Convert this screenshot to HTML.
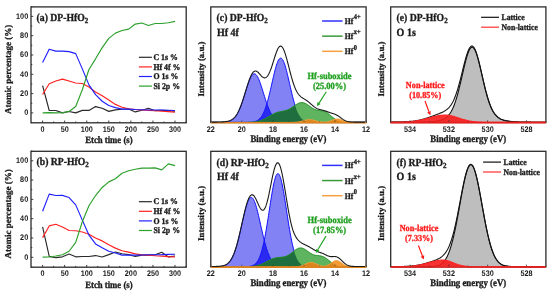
<!DOCTYPE html>
<html><head><meta charset="utf-8"><style>
html,body{margin:0;padding:0;background:#fff;}
svg{display:block;text-rendering:geometricPrecision;}
.tk{font-family:'Liberation Sans', Arial, sans-serif;font-weight:bold;font-size:7.25px;fill:#1a1a1a;}
.lb{font-family:'Liberation Serif', 'Times New Roman', serif;font-weight:bold;fill:#1a1a1a;stroke:#1a1a1a;stroke-width:0.3px;}
</style></head><body>
<svg width="550" height="293" viewBox="0 0 550 293">
<rect width="550" height="293" fill="#fff"/>
<polyline points="42.6,85.67 49.22,110.49 55.84,110.49 62.46,112.9 69.08,111.45 75.7,112.9 82.32,110.39 88.94,110.39 95.56,106.62 102.18,108.27 108.8,111.36 115.41,109.91 122.03,109.23 128.65,108.94 135.27,111.93 141.89,110.2 148.51,108.27 155.13,110.68 161.75,110.29 168.37,110.68 174.99,111.16" fill="none" stroke="#2a2a2a" stroke-width="1.15" stroke-linejoin="round"/>
<polyline points="42.6,94.56 49.22,83.74 55.84,81.04 62.46,79.11 69.08,81.04 75.7,82.97 82.32,83.45 88.94,87.12 95.56,91.95 102.18,95.81 108.8,100.06 115.41,104.4 122.03,107.2 128.65,108.75 135.27,109.52 141.89,110 148.51,110.39 155.13,110.78 161.75,111.16 168.37,111.64 174.99,112.13" fill="none" stroke="#ff2020" stroke-width="1.15" stroke-linejoin="round"/>
<polyline points="42.6,62.5 49.22,49.18 55.84,51.11 62.46,51.11 69.08,51.59 75.7,53.62 82.32,68.87 88.94,84.9 95.56,94.65 102.18,101.22 108.8,105.47 115.41,107.59 122.03,109.13 128.65,109.13 135.27,109.52 141.89,109.71 148.51,110 155.13,110 161.75,110 168.37,110.2 174.99,110.49" fill="none" stroke="#2020ff" stroke-width="1.15" stroke-linejoin="round"/>
<polyline points="42.6,112.9 49.22,112.61 55.84,112.9 62.46,112.61 69.08,111.45 75.7,106.53 82.32,89.73 88.94,69.45 95.56,58.83 102.18,47.63 108.8,38.36 115.41,33.15 122.03,30.54 128.65,29.09 135.27,24.07 141.89,23.01 148.51,25.52 155.13,23.49 161.75,23.49 168.37,22.72 174.99,21.37" fill="none" stroke="#2ca02c" stroke-width="1.15" stroke-linejoin="round"/>
<rect x="31" y="6.9" width="155.2" height="115.9" fill="none" stroke="#2b2b2b" stroke-width="1.3"/>
<path d="M42.6,122.8v-2.3M64.67,122.8v-2.3M86.73,122.8v-2.3M108.8,122.8v-2.3M130.86,122.8v-2.3M152.93,122.8v-2.3M174.99,122.8v-2.3M53.63,122.8v-1.3M75.7,122.8v-1.3M97.76,122.8v-1.3M119.83,122.8v-1.3M141.89,122.8v-1.3M163.96,122.8v-1.3M186.02,122.8v-1.3" stroke="#2b2b2b" stroke-width="0.9" fill="none" stroke-opacity="1"/>
<text transform="translate(42.6,131.6) scale(1,1.12)" text-anchor="middle" class="tk">0</text>
<text transform="translate(64.67,131.6) scale(1,1.12)" text-anchor="middle" class="tk">50</text>
<text transform="translate(86.73,131.6) scale(1,1.12)" text-anchor="middle" class="tk">100</text>
<text transform="translate(108.8,131.6) scale(1,1.12)" text-anchor="middle" class="tk">150</text>
<text transform="translate(130.86,131.6) scale(1,1.12)" text-anchor="middle" class="tk">200</text>
<text transform="translate(152.93,131.6) scale(1,1.12)" text-anchor="middle" class="tk">250</text>
<text transform="translate(174.99,131.6) scale(1,1.12)" text-anchor="middle" class="tk">300</text>
<path d="M31,112.9h2.3M31,93.59h2.3M31,74.28h2.3M31,54.97h2.3M31,35.66h2.3M31,16.35h2.3M31,122.56h1.3M31,103.25h1.3M31,83.94h1.3M31,64.62h1.3M31,45.31h1.3M31,26.01h1.3M31,6.7h1.3" stroke="#2b2b2b" stroke-width="0.9" fill="none"/>
<text transform="translate(28.2,115.3) scale(1,1.12)" text-anchor="end" class="tk">0</text>
<text transform="translate(28.2,95.99) scale(1,1.12)" text-anchor="end" class="tk">20</text>
<text transform="translate(28.2,76.68) scale(1,1.12)" text-anchor="end" class="tk">40</text>
<text transform="translate(28.2,57.37) scale(1,1.12)" text-anchor="end" class="tk">60</text>
<text transform="translate(28.2,38.06) scale(1,1.12)" text-anchor="end" class="tk">80</text>
<text transform="translate(28.2,18.75) scale(1,1.12)" text-anchor="end" class="tk">100</text>
<text transform="translate(11.4,69.4) rotate(-90)" text-anchor="middle" class="lb" font-size="9">Atomic percentage (%)</text>
<text transform="translate(108.9,143.2) scale(1,1.12)" text-anchor="middle" class="lb" font-size="8.7">Etch time (s)</text>
<text transform="translate(36.6,20.5) scale(1,1.12)" class="lb" font-size="9.7">(a) DP-HfO<tspan font-size="7" dy="1.9">2</tspan></text>
<line x1="138.9" x2="151.9" y1="57.3" y2="57.3" stroke="#2a2a2a" stroke-width="1.2"/>
<text transform="translate(153.4,59.9) scale(1,1.12)" class="lb" font-size="7.85">C 1s %</text>
<line x1="138.9" x2="151.9" y1="66.9" y2="66.9" stroke="#ff2020" stroke-width="1.2"/>
<text transform="translate(153.4,69.5) scale(1,1.12)" class="lb" font-size="7.85">Hf 4f %</text>
<line x1="138.9" x2="151.9" y1="76.5" y2="76.5" stroke="#2020ff" stroke-width="1.2"/>
<text transform="translate(153.4,79.1) scale(1,1.12)" class="lb" font-size="7.85">O 1s %</text>
<line x1="138.9" x2="151.9" y1="86.1" y2="86.1" stroke="#2ca02c" stroke-width="1.2"/>
<text transform="translate(153.4,88.7) scale(1,1.12)" class="lb" font-size="7.85">Si 2p %</text>
<polyline points="42.6,226.98 49.22,256.33 55.84,257.69 62.46,256.82 69.08,254.02 75.7,256.82 82.32,256.53 88.94,256.53 95.56,255.56 102.18,257.01 108.8,254.6 115.41,251.99 122.03,253.73 128.65,254.6 135.27,256.43 141.89,255.18 148.51,255.18 155.13,254.89 161.75,252.28 168.37,256.91 174.99,255.95" fill="none" stroke="#2a2a2a" stroke-width="1.15" stroke-linejoin="round"/>
<polyline points="42.6,237.6 49.22,225.92 55.84,224.28 62.46,226.98 69.08,230.46 75.7,230.75 82.32,232 88.94,234.32 95.56,237.99 102.18,240.89 108.8,244.75 115.41,248.13 122.03,250.73 128.65,252.18 135.27,253.92 141.89,254.89 148.51,255.18 155.13,255.76 161.75,256.14 168.37,256.62 174.99,256.91" fill="none" stroke="#ff2020" stroke-width="1.15" stroke-linejoin="round"/>
<polyline points="42.6,211.25 49.22,194.16 55.84,195.51 62.46,195.41 69.08,197.54 75.7,204.87 82.32,220.13 88.94,235.09 95.56,243.88 102.18,247.65 108.8,251.22 115.41,253.05 122.03,255.08 128.65,255.18 135.27,255.18 141.89,254.98 148.51,254.79 155.13,254.79 161.75,254.69 168.37,254.4 174.99,254.21" fill="none" stroke="#2020ff" stroke-width="1.15" stroke-linejoin="round"/>
<polyline points="42.6,257.11 49.22,257.01 55.84,256.04 62.46,254.69 69.08,251.22 75.7,242.33 82.32,221.77 88.94,205.74 95.56,195.51 102.18,187.49 108.8,181.89 115.41,178.8 122.03,173.3 128.65,170.79 135.27,169.25 141.89,168.18 148.51,168.18 155.13,167.89 161.75,169.92 168.37,163.84 174.99,165.67" fill="none" stroke="#2ca02c" stroke-width="1.15" stroke-linejoin="round"/>
<rect x="31" y="151.3" width="155.2" height="115.9" fill="none" stroke="#2b2b2b" stroke-width="1.3"/>
<path d="M42.6,267.2v-2.3M64.67,267.2v-2.3M86.73,267.2v-2.3M108.8,267.2v-2.3M130.86,267.2v-2.3M152.93,267.2v-2.3M174.99,267.2v-2.3M53.63,267.2v-1.3M75.7,267.2v-1.3M97.76,267.2v-1.3M119.83,267.2v-1.3M141.89,267.2v-1.3M163.96,267.2v-1.3M186.02,267.2v-1.3" stroke="#2b2b2b" stroke-width="0.9" fill="none" stroke-opacity="1"/>
<text transform="translate(42.6,276) scale(1,1.12)" text-anchor="middle" class="tk">0</text>
<text transform="translate(64.67,276) scale(1,1.12)" text-anchor="middle" class="tk">50</text>
<text transform="translate(86.73,276) scale(1,1.12)" text-anchor="middle" class="tk">100</text>
<text transform="translate(108.8,276) scale(1,1.12)" text-anchor="middle" class="tk">150</text>
<text transform="translate(130.86,276) scale(1,1.12)" text-anchor="middle" class="tk">200</text>
<text transform="translate(152.93,276) scale(1,1.12)" text-anchor="middle" class="tk">250</text>
<text transform="translate(174.99,276) scale(1,1.12)" text-anchor="middle" class="tk">300</text>
<path d="M31,257.3h2.3M31,237.99h2.3M31,218.68h2.3M31,199.37h2.3M31,180.06h2.3M31,160.75h2.3M31,266.96h1.3M31,247.65h1.3M31,228.34h1.3M31,209.03h1.3M31,189.72h1.3M31,170.41h1.3M31,151.1h1.3" stroke="#2b2b2b" stroke-width="0.9" fill="none"/>
<text transform="translate(28.2,259.7) scale(1,1.12)" text-anchor="end" class="tk">0</text>
<text transform="translate(28.2,240.39) scale(1,1.12)" text-anchor="end" class="tk">20</text>
<text transform="translate(28.2,221.08) scale(1,1.12)" text-anchor="end" class="tk">40</text>
<text transform="translate(28.2,201.77) scale(1,1.12)" text-anchor="end" class="tk">60</text>
<text transform="translate(28.2,182.46) scale(1,1.12)" text-anchor="end" class="tk">80</text>
<text transform="translate(28.2,163.15) scale(1,1.12)" text-anchor="end" class="tk">100</text>
<text transform="translate(11.4,213.8) rotate(-90)" text-anchor="middle" class="lb" font-size="9">Atomic percentage (%)</text>
<text transform="translate(108.9,287.6) scale(1,1.12)" text-anchor="middle" class="lb" font-size="8.7">Etch time (s)</text>
<text transform="translate(36.6,164.9) scale(1,1.12)" class="lb" font-size="9.7">(b) RP-HfO<tspan font-size="7" dy="1.9">2</tspan></text>
<line x1="138.9" x2="151.9" y1="201.7" y2="201.7" stroke="#2a2a2a" stroke-width="1.2"/>
<text transform="translate(153.4,204.3) scale(1,1.12)" class="lb" font-size="7.85">C 1s %</text>
<line x1="138.9" x2="151.9" y1="211.3" y2="211.3" stroke="#ff2020" stroke-width="1.2"/>
<text transform="translate(153.4,213.9) scale(1,1.12)" class="lb" font-size="7.85">Hf 4f %</text>
<line x1="138.9" x2="151.9" y1="220.9" y2="220.9" stroke="#2020ff" stroke-width="1.2"/>
<text transform="translate(153.4,223.5) scale(1,1.12)" class="lb" font-size="7.85">O 1s %</text>
<line x1="138.9" x2="151.9" y1="230.5" y2="230.5" stroke="#2ca02c" stroke-width="1.2"/>
<text transform="translate(153.4,233.1) scale(1,1.12)" class="lb" font-size="7.85">Si 2p %</text>
<rect x="210.8" y="6.9" width="155.3" height="115.6" fill="none" stroke="#2b2b2b" stroke-width="1.3"/>
<path d="M211.5,122.4L211.5,122.4L212,122.4L212.5,122.4L213,122.4L213.5,122.4L214,122.4L214.5,122.4L215,122.4L215.5,122.39L216,122.39L216.5,122.39L217,122.39L217.5,122.39L218,122.38L218.5,122.38L219,122.37L219.5,122.37L220,122.36L220.5,122.35L221,122.34L221.5,122.33L222,122.31L222.5,122.29L223,122.27L223.5,122.24L224,122.21L224.5,122.17L225,122.13L225.5,122.08L226,122.01L226.5,121.94L227,121.86L227.5,121.76L228,121.65L228.5,121.53L229,121.38L229.5,121.21L230,121.03L230.5,120.81L231,120.57L231.5,120.29L232,119.99L232.5,119.64L233,119.26L233.5,118.83L234,118.36L234.5,117.84L235,117.27L235.5,116.65L236,115.97L236.5,115.23L237,114.42L237.5,113.56L238,112.63L238.5,111.63L239,110.58L239.5,109.45L240,108.26L240.5,107.01L241,105.7L241.5,104.33L242,102.91L242.5,101.43L243,99.92L243.5,98.37L244,96.79L244.5,95.19L245,93.57L245.5,91.95L246,90.34L246.5,88.74L247,87.17L247.5,85.64L248,84.16L248.5,82.73L249,81.38L249.5,80.11L250,78.93L250.5,77.86L251,76.89L251.5,76.05L252,75.33L252.5,74.74L253,74.29L253.5,73.99L254,73.83L254.5,73.81L255,73.94L255.5,74.22L256,74.64L256.5,75.2L257,75.89L257.5,76.71L258,77.66L258.5,78.71L259,79.87L259.5,81.12L260,82.46L260.5,83.87L261,85.34L261.5,86.86L262,88.42L262.5,90.02L263,91.63L263.5,93.25L264,94.86L264.5,96.47L265,98.05L265.5,99.61L266,101.13L266.5,102.61L267,103.26L267.5,101.52L268,99.7L268.5,97.8L269,95.83L269.5,93.79L270,91.7L270.5,89.55L271,87.38L271.5,85.17L272,82.96L272.5,80.75L273,78.55L273.5,76.39L274,74.28L274.5,72.23L275,70.27L275.5,68.4L276,66.65L276.5,65.02L277,63.54L277.5,62.21L278,61.06L278.5,60.08L279,59.29L279.5,58.7L280,58.3L280.5,58.12L281,58.14L281.5,58.37L282,58.8L282.5,59.43L283,60.26L283.5,61.27L284,62.47L284.5,63.82L285,65.34L285.5,66.99L286,68.77L286.5,70.65L287,72.64L287.5,74.7L288,76.82L288.5,78.99L289,81.19L289.5,83.4L290,85.61L290.5,87.81L291,89.99L291.5,92.12L292,94.21L292.5,96.23L293,98.19L293.5,100.07L294,101.88L294.5,103.6L295,105.23L295.5,106.77L296,108.22L296.5,109.57L297,110.83L297.5,112.01L298,113.09L298.5,114.09L299,115L299.5,115.84L300,116.6L300.5,117.28L301,117.91L301.5,118.46L302,118.96L302.5,119.41L303,119.81L303.5,120.16L304,120.47L304.5,120.74L305,120.98L305.5,121.19L306,121.37L306.5,121.53L307,121.66L307.5,121.78L308,121.88L308.5,121.96L309,122.03L309.5,122.1L310,122.15L310.5,122.19L311,122.23L311.5,122.26L312,122.28L312.5,122.31L313,122.32L313.5,122.34L314,122.35L314.5,122.36L315,122.37L315.5,122.37L316,122.38L316.5,122.38L317,122.39L317.5,122.39L318,122.39L318.5,122.39L319,122.4L319.5,122.4L320,122.4L320.5,122.4L321,122.4L321.5,122.4L322,122.4L322.5,122.4L323,122.4L323.5,122.4L324,122.4L324.5,122.4L325,122.4L325.5,122.4L326,122.4L326.5,122.4L327,122.4L327.5,122.4L328,122.4L328.5,122.4L329,122.4L329.5,122.4L330,122.4L330.5,122.4L331,122.4L331.5,122.4L332,122.4L332.5,122.4L333,122.4L333.5,122.4L334,122.4L334.5,122.4L335,122.4L335.5,122.4L336,122.4L336.5,122.4L337,122.4L337.5,122.4L338,122.4L338.5,122.4L339,122.4L339.5,122.4L340,122.4L340.5,122.4L341,122.4L341.5,122.4L342,122.4L342.5,122.4L343,122.4L343.5,122.4L344,122.4L344.5,122.4L345,122.4L345.5,122.4L346,122.4L346.5,122.4L347,122.4L347.5,122.4L348,122.4L348.5,122.4L349,122.4L349.5,122.4L350,122.4L350.5,122.4L351,122.4L351.5,122.4L352,122.4L352.5,122.4L353,122.4L353.5,122.4L354,122.4L354.5,122.4L355,122.4L355.5,122.4L356,122.4L356.5,122.4L357,122.4L357.5,122.4L358,122.4L358.5,122.4L359,122.4L359.5,122.4L360,122.4L360.5,122.4L361,122.4L361.5,122.4L362,122.4L362.5,122.4L363,122.4L363.5,122.4L364,122.4L364.5,122.4L365,122.4L365,122.4Z" fill="#8282f5"/>
<path d="M211.5,122.4L211.5,122.4L212,122.4L212.5,122.4L213,122.4L213.5,122.4L214,122.4L214.5,122.4L215,122.4L215.5,122.4L216,122.4L216.5,122.4L217,122.4L217.5,122.4L218,122.4L218.5,122.4L219,122.4L219.5,122.4L220,122.4L220.5,122.4L221,122.4L221.5,122.4L222,122.4L222.5,122.4L223,122.4L223.5,122.4L224,122.4L224.5,122.4L225,122.4L225.5,122.4L226,122.4L226.5,122.4L227,122.4L227.5,122.4L228,122.4L228.5,122.4L229,122.4L229.5,122.4L230,122.4L230.5,122.4L231,122.4L231.5,122.4L232,122.4L232.5,122.4L233,122.4L233.5,122.4L234,122.4L234.5,122.4L235,122.4L235.5,122.4L236,122.4L236.5,122.4L237,122.4L237.5,122.4L238,122.4L238.5,122.4L239,122.4L239.5,122.4L240,122.4L240.5,122.4L241,122.4L241.5,122.4L242,122.4L242.5,122.39L243,122.39L243.5,122.39L244,122.39L244.5,122.39L245,122.38L245.5,122.38L246,122.37L246.5,122.37L247,122.36L247.5,122.35L248,122.34L248.5,122.32L249,122.3L249.5,122.28L250,122.25L250.5,122.22L251,122.18L251.5,122.14L252,122.08L252.5,122.02L253,121.95L253.5,121.86L254,121.76L254.5,121.64L255,121.5L255.5,121.33L256,121.15L256.5,120.93L257,120.69L257.5,120.41L258,120.09L258.5,119.73L259,119.33L259.5,118.87L260,118.36L260.5,117.79L261,117.15L261.5,116.45L262,115.68L262.5,114.82L263,113.89L263.5,112.88L264,111.78L264.5,110.59L265,109.31L265.5,107.93L266,106.47L266.5,104.91L267,104.05L267.5,105.43L268,106.75L268.5,108.02L269,109.22L269.5,110.36L270,111.43L270.5,112.44L271,113.38L271.5,114.26L272,115.07L272.5,115.82L273,116.52L273.5,117.15L274,117.73L274.5,118.26L275,118.74L275.5,119.18L276,119.57L276.5,119.92L277,120.24L277.5,120.52L278,120.76L278.5,120.98L279,121.18L279.5,121.35L280,121.5L280.5,121.63L281,121.74L281.5,121.84L282,121.93L282.5,122L283,122.06L283.5,122.12L284,122.16L284.5,122.2L285,122.24L285.5,122.26L286,122.29L286.5,122.31L287,122.32L287.5,122.34L288,122.35L288.5,122.36L289,122.37L289.5,122.37L290,122.38L290.5,122.38L291,122.39L291.5,122.39L292,122.39L292.5,122.39L293,122.39L293.5,122.4L294,122.4L294.5,122.4L295,122.4L295.5,122.4L296,122.4L296.5,122.4L297,122.4L297.5,122.4L298,122.4L298.5,122.4L299,122.4L299.5,122.4L300,122.4L300.5,122.4L301,122.4L301.5,122.4L302,122.4L302.5,122.4L303,122.4L303.5,122.4L304,122.4L304.5,122.4L305,122.4L305.5,122.4L306,122.4L306.5,122.4L307,122.4L307.5,122.4L308,122.4L308.5,122.4L309,122.4L309.5,122.4L310,122.4L310.5,122.4L311,122.4L311.5,122.4L312,122.4L312.5,122.4L313,122.4L313.5,122.4L314,122.4L314.5,122.4L315,122.4L315.5,122.4L316,122.4L316.5,122.4L317,122.4L317.5,122.4L318,122.4L318.5,122.4L319,122.4L319.5,122.4L320,122.4L320.5,122.4L321,122.4L321.5,122.4L322,122.4L322.5,122.4L323,122.4L323.5,122.4L324,122.4L324.5,122.4L325,122.4L325.5,122.4L326,122.4L326.5,122.4L327,122.4L327.5,122.4L328,122.4L328.5,122.4L329,122.4L329.5,122.4L330,122.4L330.5,122.4L331,122.4L331.5,122.4L332,122.4L332.5,122.4L333,122.4L333.5,122.4L334,122.4L334.5,122.4L335,122.4L335.5,122.4L336,122.4L336.5,122.4L337,122.4L337.5,122.4L338,122.4L338.5,122.4L339,122.4L339.5,122.4L340,122.4L340.5,122.4L341,122.4L341.5,122.4L342,122.4L342.5,122.4L343,122.4L343.5,122.4L344,122.4L344.5,122.4L345,122.4L345.5,122.4L346,122.4L346.5,122.4L347,122.4L347.5,122.4L348,122.4L348.5,122.4L349,122.4L349.5,122.4L350,122.4L350.5,122.4L351,122.4L351.5,122.4L352,122.4L352.5,122.4L353,122.4L353.5,122.4L354,122.4L354.5,122.4L355,122.4L355.5,122.4L356,122.4L356.5,122.4L357,122.4L357.5,122.4L358,122.4L358.5,122.4L359,122.4L359.5,122.4L360,122.4L360.5,122.4L361,122.4L361.5,122.4L362,122.4L362.5,122.4L363,122.4L363.5,122.4L364,122.4L364.5,122.4L365,122.4L365,122.4Z" fill="#2a2af0"/>
<path d="M211.5,122.4L212,122.4L212.5,122.4L213,122.4L213.5,122.4L214,122.4L214.5,122.4L215,122.4L215.5,122.39L216,122.39L216.5,122.39L217,122.39L217.5,122.39L218,122.38L218.5,122.38L219,122.37L219.5,122.37L220,122.36L220.5,122.35L221,122.34L221.5,122.33L222,122.31L222.5,122.29L223,122.27L223.5,122.24L224,122.21L224.5,122.17L225,122.13L225.5,122.08L226,122.01L226.5,121.94L227,121.86L227.5,121.76L228,121.65L228.5,121.53L229,121.38L229.5,121.21L230,121.03L230.5,120.81L231,120.57L231.5,120.29L232,119.99L232.5,119.64L233,119.26L233.5,118.83L234,118.36L234.5,117.84L235,117.27L235.5,116.65L236,115.97L236.5,115.23L237,114.42L237.5,113.56L238,112.63L238.5,111.63L239,110.58L239.5,109.45L240,108.26L240.5,107.01L241,105.7L241.5,104.33L242,102.91L242.5,101.43L243,99.92L243.5,98.37L244,96.79L244.5,95.19L245,93.57L245.5,91.95L246,90.34L246.5,88.74L247,87.17L247.5,85.64L248,84.16L248.5,82.73L249,81.38L249.5,80.11L250,78.93L250.5,77.86L251,76.89L251.5,76.05L252,75.33L252.5,74.74L253,74.29L253.5,73.99L254,73.83L254.5,73.81L255,73.94L255.5,74.22L256,74.64L256.5,75.2L257,75.89L257.5,76.71L258,77.66L258.5,78.71L259,79.87L259.5,81.12L260,82.46L260.5,83.87L261,85.34L261.5,86.86L262,88.42L262.5,90.02L263,91.63L263.5,93.25L264,94.86L264.5,96.47L265,98.05L265.5,99.61L266,101.13L266.5,102.61L267,104.05L267.5,105.43L268,106.75L268.5,108.02L269,109.22L269.5,110.36L270,111.43L270.5,112.44L271,113.38L271.5,114.26L272,115.07L272.5,115.82L273,116.52L273.5,117.15L274,117.73L274.5,118.26L275,118.74L275.5,119.18L276,119.57L276.5,119.92L277,120.24L277.5,120.52L278,120.76L278.5,120.98L279,121.18L279.5,121.35L280,121.5L280.5,121.63L281,121.74L281.5,121.84L282,121.93L282.5,122L283,122.06L283.5,122.12L284,122.16L284.5,122.2L285,122.24L285.5,122.26L286,122.29L286.5,122.31L287,122.32L287.5,122.34L288,122.35L288.5,122.36L289,122.37L289.5,122.37L290,122.38L290.5,122.38L291,122.39L291.5,122.39L292,122.39L292.5,122.39L293,122.39L293.5,122.4L294,122.4L294.5,122.4L295,122.4L295.5,122.4L296,122.4L296.5,122.4L297,122.4L297.5,122.4L298,122.4L298.5,122.4L299,122.4L299.5,122.4L300,122.4L300.5,122.4L301,122.4L301.5,122.4L302,122.4L302.5,122.4L303,122.4L303.5,122.4L304,122.4L304.5,122.4L305,122.4L305.5,122.4L306,122.4L306.5,122.4L307,122.4L307.5,122.4L308,122.4L308.5,122.4L309,122.4L309.5,122.4L310,122.4L310.5,122.4L311,122.4L311.5,122.4L312,122.4L312.5,122.4L313,122.4L313.5,122.4L314,122.4L314.5,122.4L315,122.4L315.5,122.4L316,122.4L316.5,122.4L317,122.4L317.5,122.4L318,122.4L318.5,122.4L319,122.4L319.5,122.4L320,122.4L320.5,122.4L321,122.4L321.5,122.4L322,122.4L322.5,122.4L323,122.4L323.5,122.4L324,122.4L324.5,122.4L325,122.4L325.5,122.4L326,122.4L326.5,122.4L327,122.4L327.5,122.4L328,122.4L328.5,122.4L329,122.4L329.5,122.4L330,122.4L330.5,122.4L331,122.4L331.5,122.4L332,122.4L332.5,122.4L333,122.4L333.5,122.4L334,122.4L334.5,122.4L335,122.4L335.5,122.4L336,122.4L336.5,122.4L337,122.4L337.5,122.4L338,122.4L338.5,122.4L339,122.4L339.5,122.4L340,122.4L340.5,122.4L341,122.4L341.5,122.4L342,122.4L342.5,122.4L343,122.4L343.5,122.4L344,122.4L344.5,122.4L345,122.4L345.5,122.4L346,122.4L346.5,122.4L347,122.4L347.5,122.4L348,122.4L348.5,122.4L349,122.4L349.5,122.4L350,122.4L350.5,122.4L351,122.4L351.5,122.4L352,122.4L352.5,122.4L353,122.4L353.5,122.4L354,122.4L354.5,122.4L355,122.4L355.5,122.4L356,122.4L356.5,122.4L357,122.4L357.5,122.4L358,122.4L358.5,122.4L359,122.4L359.5,122.4L360,122.4L360.5,122.4L361,122.4L361.5,122.4L362,122.4L362.5,122.4L363,122.4L363.5,122.4L364,122.4L364.5,122.4L365,122.4" fill="none" stroke="#1010ff" stroke-width="1"/>
<path d="M211.5,122.4L212,122.4L212.5,122.4L213,122.4L213.5,122.4L214,122.4L214.5,122.4L215,122.4L215.5,122.4L216,122.4L216.5,122.4L217,122.4L217.5,122.4L218,122.4L218.5,122.4L219,122.4L219.5,122.4L220,122.4L220.5,122.4L221,122.4L221.5,122.4L222,122.4L222.5,122.4L223,122.4L223.5,122.4L224,122.4L224.5,122.4L225,122.4L225.5,122.4L226,122.4L226.5,122.4L227,122.4L227.5,122.4L228,122.4L228.5,122.4L229,122.4L229.5,122.4L230,122.4L230.5,122.4L231,122.4L231.5,122.4L232,122.4L232.5,122.4L233,122.4L233.5,122.4L234,122.4L234.5,122.4L235,122.4L235.5,122.4L236,122.4L236.5,122.4L237,122.4L237.5,122.4L238,122.4L238.5,122.4L239,122.4L239.5,122.4L240,122.4L240.5,122.4L241,122.4L241.5,122.4L242,122.4L242.5,122.39L243,122.39L243.5,122.39L244,122.39L244.5,122.39L245,122.38L245.5,122.38L246,122.37L246.5,122.37L247,122.36L247.5,122.35L248,122.34L248.5,122.32L249,122.3L249.5,122.28L250,122.25L250.5,122.22L251,122.18L251.5,122.14L252,122.08L252.5,122.02L253,121.95L253.5,121.86L254,121.76L254.5,121.64L255,121.5L255.5,121.33L256,121.15L256.5,120.93L257,120.69L257.5,120.41L258,120.09L258.5,119.73L259,119.33L259.5,118.87L260,118.36L260.5,117.79L261,117.15L261.5,116.45L262,115.68L262.5,114.82L263,113.89L263.5,112.88L264,111.78L264.5,110.59L265,109.31L265.5,107.93L266,106.47L266.5,104.91L267,103.26L267.5,101.52L268,99.7L268.5,97.8L269,95.83L269.5,93.79L270,91.7L270.5,89.55L271,87.38L271.5,85.17L272,82.96L272.5,80.75L273,78.55L273.5,76.39L274,74.28L274.5,72.23L275,70.27L275.5,68.4L276,66.65L276.5,65.02L277,63.54L277.5,62.21L278,61.06L278.5,60.08L279,59.29L279.5,58.7L280,58.3L280.5,58.12L281,58.14L281.5,58.37L282,58.8L282.5,59.43L283,60.26L283.5,61.27L284,62.47L284.5,63.82L285,65.34L285.5,66.99L286,68.77L286.5,70.65L287,72.64L287.5,74.7L288,76.82L288.5,78.99L289,81.19L289.5,83.4L290,85.61L290.5,87.81L291,89.99L291.5,92.12L292,94.21L292.5,96.23L293,98.19L293.5,100.07L294,101.88L294.5,103.6L295,105.23L295.5,106.77L296,108.22L296.5,109.57L297,110.83L297.5,112.01L298,113.09L298.5,114.09L299,115L299.5,115.84L300,116.6L300.5,117.28L301,117.91L301.5,118.46L302,118.96L302.5,119.41L303,119.81L303.5,120.16L304,120.47L304.5,120.74L305,120.98L305.5,121.19L306,121.37L306.5,121.53L307,121.66L307.5,121.78L308,121.88L308.5,121.96L309,122.03L309.5,122.1L310,122.15L310.5,122.19L311,122.23L311.5,122.26L312,122.28L312.5,122.31L313,122.32L313.5,122.34L314,122.35L314.5,122.36L315,122.37L315.5,122.37L316,122.38L316.5,122.38L317,122.39L317.5,122.39L318,122.39L318.5,122.39L319,122.4L319.5,122.4L320,122.4L320.5,122.4L321,122.4L321.5,122.4L322,122.4L322.5,122.4L323,122.4L323.5,122.4L324,122.4L324.5,122.4L325,122.4L325.5,122.4L326,122.4L326.5,122.4L327,122.4L327.5,122.4L328,122.4L328.5,122.4L329,122.4L329.5,122.4L330,122.4L330.5,122.4L331,122.4L331.5,122.4L332,122.4L332.5,122.4L333,122.4L333.5,122.4L334,122.4L334.5,122.4L335,122.4L335.5,122.4L336,122.4L336.5,122.4L337,122.4L337.5,122.4L338,122.4L338.5,122.4L339,122.4L339.5,122.4L340,122.4L340.5,122.4L341,122.4L341.5,122.4L342,122.4L342.5,122.4L343,122.4L343.5,122.4L344,122.4L344.5,122.4L345,122.4L345.5,122.4L346,122.4L346.5,122.4L347,122.4L347.5,122.4L348,122.4L348.5,122.4L349,122.4L349.5,122.4L350,122.4L350.5,122.4L351,122.4L351.5,122.4L352,122.4L352.5,122.4L353,122.4L353.5,122.4L354,122.4L354.5,122.4L355,122.4L355.5,122.4L356,122.4L356.5,122.4L357,122.4L357.5,122.4L358,122.4L358.5,122.4L359,122.4L359.5,122.4L360,122.4L360.5,122.4L361,122.4L361.5,122.4L362,122.4L362.5,122.4L363,122.4L363.5,122.4L364,122.4L364.5,122.4L365,122.4" fill="none" stroke="#1010ff" stroke-width="1"/>
<path d="M211.5,122.4L211.5,122.4L212,122.4L212.5,122.4L213,122.4L213.5,122.4L214,122.4L214.5,122.4L215,122.4L215.5,122.4L216,122.4L216.5,122.4L217,122.4L217.5,122.4L218,122.4L218.5,122.4L219,122.4L219.5,122.4L220,122.4L220.5,122.4L221,122.4L221.5,122.4L222,122.4L222.5,122.4L223,122.4L223.5,122.4L224,122.4L224.5,122.4L225,122.4L225.5,122.4L226,122.4L226.5,122.4L227,122.4L227.5,122.4L228,122.4L228.5,122.4L229,122.4L229.5,122.4L230,122.4L230.5,122.4L231,122.4L231.5,122.4L232,122.4L232.5,122.4L233,122.4L233.5,122.4L234,122.4L234.5,122.4L235,122.4L235.5,122.4L236,122.4L236.5,122.4L237,122.4L237.5,122.4L238,122.4L238.5,122.4L239,122.4L239.5,122.4L240,122.4L240.5,122.39L241,122.39L241.5,122.39L242,122.39L242.5,122.39L243,122.39L243.5,122.38L244,122.38L244.5,122.38L245,122.37L245.5,122.37L246,122.36L246.5,122.35L247,122.35L247.5,122.34L248,122.33L248.5,122.31L249,122.3L249.5,122.28L250,122.26L250.5,122.24L251,122.21L251.5,122.19L252,122.15L252.5,122.12L253,122.08L253.5,122.03L254,121.98L254.5,121.92L255,121.86L255.5,121.79L256,121.71L256.5,121.63L257,121.54L257.5,121.44L258,121.33L258.5,121.21L259,121.08L259.5,120.94L260,120.79L260.5,120.63L261,120.46L261.5,120.27L262,120.08L262.5,119.88L263,119.66L263.5,119.44L264,119.2L264.5,118.96L265,118.7L265.5,118.44L266,118.17L266.5,117.89L267,117.61L267.5,117.32L268,117.02L268.5,116.73L269,116.43L269.5,116.13L270,115.83L270.5,115.54L271,115.25L271.5,114.96L272,114.69L272.5,114.41L273,114.15L273.5,113.9L274,113.66L274.5,113.42L275,113.21L275.5,113L276,112.81L276.5,112.62L277,112.46L277.5,112.3L278,112.16L278.5,112.02L279,111.9L279.5,111.79L280,111.68L280.5,111.58L281,111.49L281.5,111.4L282,111.31L282.5,111.22L283,111.13L283.5,111.03L284,110.93L284.5,110.82L285,110.7L285.5,110.57L286,110.42L286.5,110.27L287,110.09L287.5,109.9L288,109.7L288.5,109.48L289,109.24L289.5,108.98L290,108.71L290.5,108.42L291,108.12L291.5,107.8L292,107.48L292.5,107.14L293,106.8L293.5,106.45L294,106.1L294.5,105.76L295,105.41L295.5,105.07L296,104.75L296.5,104.43L297,104.13L297.5,103.85L298,103.59L298.5,103.36L299,103.15L299.5,102.97L300,102.83L300.5,102.71L301,102.63L301.5,102.59L302,102.58L302.5,102.61L303,102.68L303.5,102.78L304,102.92L304.5,103.09L305,103.29L305.5,103.52L306,103.78L306.5,104.07L307,104.38L307.5,104.71L308,105.05L308.5,105.41L309,105.77L309.5,106.14L310,106.5L310.5,106.87L311,107.23L311.5,107.57L312,107.91L312.5,108.23L313,108.52L313.5,108.8L314,109.06L314.5,109.29L315,109.5L315.5,109.69L316,109.85L316.5,109.99L317,110.11L317.5,110.21L318,110.29L318.5,110.36L319,110.43L319.5,110.48L320,110.53L320.5,110.59L321,110.64L321.5,110.71L322,110.79L322.5,110.89L323,111L323.5,111.13L324,111.29L324.5,111.48L325,111.68L325.5,111.92L326,112.18L326.5,112.47L327,112.78L327.5,113.12L328,113.47L328.5,113.85L329,114.24L329.5,114.65L330,115.06L330.5,115.48L331,115.9L331.5,116.33L332,116.75L332.5,117.16L333,117.56L333.5,117.96L334,118.33L334.5,118.7L335,119.04L335.5,119.37L336,119.68L336.5,119.96L337,120.23L337.5,120.48L338,120.7L338.5,120.91L339,121.1L339.5,121.27L340,121.42L340.5,121.55L341,121.67L341.5,121.78L342,121.87L342.5,121.95L343,122.02L343.5,122.08L344,122.14L344.5,122.18L345,122.22L345.5,122.25L346,122.28L346.5,122.3L347,122.32L347.5,122.33L348,122.35L348.5,122.36L349,122.37L349.5,122.37L350,122.38L350.5,122.38L351,122.39L351.5,122.39L352,122.39L352.5,122.39L353,122.4L353.5,122.4L354,122.4L354.5,122.4L355,122.4L355.5,122.4L356,122.4L356.5,122.4L357,122.4L357.5,122.4L358,122.4L358.5,122.4L359,122.4L359.5,122.4L360,122.4L360.5,122.4L361,122.4L361.5,122.4L362,122.4L362.5,122.4L363,122.4L363.5,122.4L364,122.4L364.5,122.4L365,122.4L365,122.4Z" fill="#5fb45f"/>
<path d="M211.5,122.4L211.5,122.4L212,122.4L212.5,122.4L213,122.4L213.5,122.4L214,122.4L214.5,122.4L215,122.4L215.5,122.4L216,122.4L216.5,122.4L217,122.4L217.5,122.4L218,122.4L218.5,122.4L219,122.4L219.5,122.4L220,122.4L220.5,122.4L221,122.4L221.5,122.4L222,122.4L222.5,122.4L223,122.4L223.5,122.4L224,122.4L224.5,122.4L225,122.4L225.5,122.4L226,122.4L226.5,122.4L227,122.4L227.5,122.4L228,122.4L228.5,122.4L229,122.4L229.5,122.4L230,122.4L230.5,122.4L231,122.4L231.5,122.4L232,122.4L232.5,122.4L233,122.4L233.5,122.4L234,122.4L234.5,122.4L235,122.4L235.5,122.4L236,122.4L236.5,122.4L237,122.4L237.5,122.4L238,122.4L238.5,122.4L239,122.4L239.5,122.4L240,122.4L240.5,122.39L241,122.39L241.5,122.39L242,122.39L242.5,122.39L243,122.39L243.5,122.38L244,122.38L244.5,122.38L245,122.37L245.5,122.37L246,122.36L246.5,122.35L247,122.35L247.5,122.34L248,122.33L248.5,122.31L249,122.3L249.5,122.28L250,122.26L250.5,122.24L251,122.21L251.5,122.19L252,122.15L252.5,122.12L253,122.08L253.5,122.03L254,121.98L254.5,121.92L255,121.86L255.5,121.79L256,121.71L256.5,121.63L257,121.54L257.5,121.44L258,121.33L258.5,121.21L259,121.08L259.5,120.94L260,120.79L260.5,120.63L261,120.46L261.5,120.27L262,120.08L262.5,119.88L263,119.66L263.5,119.44L264,119.2L264.5,118.96L265,118.7L265.5,118.44L266,118.17L266.5,117.89L267,117.61L267.5,117.32L268,117.02L268.5,116.73L269,116.43L269.5,116.13L270,115.83L270.5,115.54L271,115.25L271.5,114.96L272,114.69L272.5,114.41L273,114.15L273.5,113.9L274,113.66L274.5,113.42L275,113.21L275.5,113L276,112.81L276.5,112.62L277,112.46L277.5,112.3L278,112.16L278.5,112.02L279,111.9L279.5,111.79L280,111.68L280.5,111.58L281,111.49L281.5,111.4L282,111.31L282.5,111.22L283,111.13L283.5,111.03L284,110.93L284.5,110.82L285,110.7L285.5,110.57L286,110.42L286.5,110.27L287,110.09L287.5,109.9L288,109.7L288.5,109.48L289,109.24L289.5,108.98L290,108.71L290.5,108.42L291,108.12L291.5,107.8L292,107.48L292.5,107.14L293,106.8L293.5,106.45L294,106.1L294.5,105.76L295,105.41L295.5,106.77L296,108.22L296.5,109.57L297,110.83L297.5,112.01L298,113.09L298.5,114.09L299,115L299.5,115.84L300,116.6L300.5,117.28L301,117.91L301.5,118.46L302,118.96L302.5,119.41L303,119.81L303.5,120.16L304,120.47L304.5,120.74L305,120.98L305.5,121.19L306,121.37L306.5,121.53L307,121.66L307.5,121.78L308,121.88L308.5,121.96L309,122.03L309.5,122.1L310,122.15L310.5,122.19L311,122.23L311.5,122.26L312,122.28L312.5,122.31L313,122.32L313.5,122.34L314,122.35L314.5,122.36L315,122.37L315.5,122.37L316,122.38L316.5,122.38L317,122.39L317.5,122.39L318,122.39L318.5,122.39L319,122.4L319.5,122.4L320,122.4L320.5,122.4L321,122.4L321.5,122.4L322,122.4L322.5,122.4L323,122.4L323.5,122.4L324,122.4L324.5,122.4L325,122.4L325.5,122.4L326,122.4L326.5,122.4L327,122.4L327.5,122.4L328,122.4L328.5,122.4L329,122.4L329.5,122.4L330,122.4L330.5,122.4L331,122.4L331.5,122.4L332,122.4L332.5,122.4L333,122.4L333.5,122.4L334,122.4L334.5,122.4L335,122.4L335.5,122.4L336,122.4L336.5,122.4L337,122.4L337.5,122.4L338,122.4L338.5,122.4L339,122.4L339.5,122.4L340,122.4L340.5,122.4L341,122.4L341.5,122.4L342,122.4L342.5,122.4L343,122.4L343.5,122.4L344,122.4L344.5,122.4L345,122.4L345.5,122.4L346,122.4L346.5,122.4L347,122.4L347.5,122.4L348,122.4L348.5,122.4L349,122.4L349.5,122.4L350,122.4L350.5,122.4L351,122.4L351.5,122.4L352,122.4L352.5,122.4L353,122.4L353.5,122.4L354,122.4L354.5,122.4L355,122.4L355.5,122.4L356,122.4L356.5,122.4L357,122.4L357.5,122.4L358,122.4L358.5,122.4L359,122.4L359.5,122.4L360,122.4L360.5,122.4L361,122.4L361.5,122.4L362,122.4L362.5,122.4L363,122.4L363.5,122.4L364,122.4L364.5,122.4L365,122.4L365,122.4Z" fill="#1e6e40"/>
<path d="M211.5,122.4L212,122.4L212.5,122.4L213,122.4L213.5,122.4L214,122.4L214.5,122.4L215,122.4L215.5,122.4L216,122.4L216.5,122.4L217,122.4L217.5,122.4L218,122.4L218.5,122.4L219,122.4L219.5,122.4L220,122.4L220.5,122.4L221,122.4L221.5,122.4L222,122.4L222.5,122.4L223,122.4L223.5,122.4L224,122.4L224.5,122.4L225,122.4L225.5,122.4L226,122.4L226.5,122.4L227,122.4L227.5,122.4L228,122.4L228.5,122.4L229,122.4L229.5,122.4L230,122.4L230.5,122.4L231,122.4L231.5,122.4L232,122.4L232.5,122.4L233,122.4L233.5,122.4L234,122.4L234.5,122.4L235,122.4L235.5,122.4L236,122.4L236.5,122.4L237,122.4L237.5,122.4L238,122.4L238.5,122.4L239,122.4L239.5,122.4L240,122.4L240.5,122.39L241,122.39L241.5,122.39L242,122.39L242.5,122.39L243,122.39L243.5,122.38L244,122.38L244.5,122.38L245,122.37L245.5,122.37L246,122.36L246.5,122.35L247,122.35L247.5,122.34L248,122.33L248.5,122.31L249,122.3L249.5,122.28L250,122.26L250.5,122.24L251,122.21L251.5,122.19L252,122.15L252.5,122.12L253,122.08L253.5,122.03L254,121.98L254.5,121.92L255,121.86L255.5,121.79L256,121.71L256.5,121.63L257,121.54L257.5,121.44L258,121.33L258.5,121.21L259,121.08L259.5,120.94L260,120.79L260.5,120.63L261,120.46L261.5,120.27L262,120.08L262.5,119.88L263,119.66L263.5,119.44L264,119.2L264.5,118.96L265,118.7L265.5,118.44L266,118.17L266.5,117.89L267,117.61L267.5,117.32L268,117.02L268.5,116.73L269,116.43L269.5,116.13L270,115.83L270.5,115.54L271,115.25L271.5,114.96L272,114.69L272.5,114.41L273,114.15L273.5,113.9L274,113.66L274.5,113.42L275,113.21L275.5,113L276,112.81L276.5,112.62L277,112.46L277.5,112.3L278,112.16L278.5,112.02L279,111.9L279.5,111.79L280,111.68L280.5,111.58L281,111.49L281.5,111.4L282,111.31L282.5,111.22L283,111.13L283.5,111.03L284,110.93L284.5,110.82L285,110.7L285.5,110.57L286,110.42L286.5,110.27L287,110.09L287.5,109.9L288,109.7L288.5,109.48L289,109.24L289.5,108.98L290,108.71L290.5,108.42L291,108.12L291.5,107.8L292,107.48L292.5,107.14L293,106.8L293.5,106.45L294,106.1L294.5,105.76L295,105.41L295.5,105.07L296,104.75L296.5,104.43L297,104.13L297.5,103.85L298,103.59L298.5,103.36L299,103.15L299.5,102.97L300,102.83L300.5,102.71L301,102.63L301.5,102.59L302,102.58L302.5,102.61L303,102.68L303.5,102.78L304,102.92L304.5,103.09L305,103.29L305.5,103.52L306,103.78L306.5,104.07L307,104.38L307.5,104.71L308,105.05L308.5,105.41L309,105.77L309.5,106.14L310,106.5L310.5,106.87L311,107.23L311.5,107.57L312,107.91L312.5,108.23L313,108.52L313.5,108.8L314,109.06L314.5,109.29L315,109.5L315.5,109.69L316,109.85L316.5,109.99L317,110.11L317.5,110.21L318,110.29L318.5,110.36L319,110.43L319.5,110.48L320,110.53L320.5,110.59L321,110.64L321.5,110.71L322,110.79L322.5,110.89L323,111L323.5,111.13L324,111.29L324.5,111.48L325,111.68L325.5,111.92L326,112.18L326.5,112.47L327,112.78L327.5,113.12L328,113.47L328.5,113.85L329,114.24L329.5,114.65L330,115.06L330.5,115.48L331,115.9L331.5,116.33L332,116.75L332.5,117.16L333,117.56L333.5,117.96L334,118.33L334.5,118.7L335,119.04L335.5,119.37L336,119.68L336.5,119.96L337,120.23L337.5,120.48L338,120.7L338.5,120.91L339,121.1L339.5,121.27L340,121.42L340.5,121.55L341,121.67L341.5,121.78L342,121.87L342.5,121.95L343,122.02L343.5,122.08L344,122.14L344.5,122.18L345,122.22L345.5,122.25L346,122.28L346.5,122.3L347,122.32L347.5,122.33L348,122.35L348.5,122.36L349,122.37L349.5,122.37L350,122.38L350.5,122.38L351,122.39L351.5,122.39L352,122.39L352.5,122.39L353,122.4L353.5,122.4L354,122.4L354.5,122.4L355,122.4L355.5,122.4L356,122.4L356.5,122.4L357,122.4L357.5,122.4L358,122.4L358.5,122.4L359,122.4L359.5,122.4L360,122.4L360.5,122.4L361,122.4L361.5,122.4L362,122.4L362.5,122.4L363,122.4L363.5,122.4L364,122.4L364.5,122.4L365,122.4" fill="none" stroke="#1a8c1a" stroke-width="1"/>
<path d="M211.5,122.4L211.5,122.4L212,122.4L212.5,122.4L213,122.4L213.5,122.4L214,122.4L214.5,122.4L215,122.4L215.5,122.4L216,122.4L216.5,122.4L217,122.4L217.5,122.4L218,122.4L218.5,122.4L219,122.4L219.5,122.4L220,122.4L220.5,122.4L221,122.4L221.5,122.4L222,122.4L222.5,122.4L223,122.4L223.5,122.4L224,122.4L224.5,122.4L225,122.4L225.5,122.4L226,122.4L226.5,122.4L227,122.4L227.5,122.4L228,122.4L228.5,122.4L229,122.4L229.5,122.4L230,122.4L230.5,122.4L231,122.4L231.5,122.4L232,122.4L232.5,122.4L233,122.4L233.5,122.4L234,122.4L234.5,122.4L235,122.4L235.5,122.4L236,122.4L236.5,122.4L237,122.4L237.5,122.4L238,122.4L238.5,122.4L239,122.4L239.5,122.4L240,122.4L240.5,122.4L241,122.4L241.5,122.4L242,122.4L242.5,122.4L243,122.4L243.5,122.4L244,122.4L244.5,122.4L245,122.4L245.5,122.4L246,122.4L246.5,122.4L247,122.4L247.5,122.4L248,122.4L248.5,122.4L249,122.4L249.5,122.4L250,122.4L250.5,122.4L251,122.4L251.5,122.4L252,122.4L252.5,122.4L253,122.4L253.5,122.4L254,122.4L254.5,122.4L255,122.4L255.5,122.4L256,122.4L256.5,122.4L257,122.4L257.5,122.4L258,122.4L258.5,122.4L259,122.4L259.5,122.4L260,122.4L260.5,122.4L261,122.4L261.5,122.4L262,122.4L262.5,122.4L263,122.4L263.5,122.4L264,122.4L264.5,122.4L265,122.4L265.5,122.4L266,122.4L266.5,122.4L267,122.4L267.5,122.4L268,122.4L268.5,122.4L269,122.4L269.5,122.4L270,122.4L270.5,122.4L271,122.4L271.5,122.4L272,122.4L272.5,122.4L273,122.4L273.5,122.4L274,122.4L274.5,122.4L275,122.4L275.5,122.4L276,122.4L276.5,122.4L277,122.4L277.5,122.4L278,122.4L278.5,122.4L279,122.4L279.5,122.4L280,122.4L280.5,122.4L281,122.4L281.5,122.4L282,122.4L282.5,122.4L283,122.4L283.5,122.4L284,122.4L284.5,122.4L285,122.4L285.5,122.4L286,122.4L286.5,122.4L287,122.4L287.5,122.4L288,122.4L288.5,122.39L289,122.39L289.5,122.39L290,122.39L290.5,122.38L291,122.38L291.5,122.37L292,122.36L292.5,122.35L293,122.34L293.5,122.32L294,122.3L294.5,122.28L295,122.25L295.5,122.22L296,122.18L296.5,122.13L297,122.08L297.5,122.02L298,121.95L298.5,121.88L299,121.79L299.5,121.7L300,121.6L300.5,121.49L301,121.37L301.5,121.25L302,121.12L302.5,120.98L303,120.84L303.5,120.7L304,120.56L304.5,120.42L305,120.29L305.5,120.16L306,120.04L306.5,119.93L307,119.83L307.5,119.75L308,119.69L308.5,119.64L309,119.61L309.5,119.6L310,119.61L310.5,119.64L311,119.69L311.5,119.75L312,119.83L312.5,119.93L313,120.04L313.5,120.16L314,120.29L314.5,120.42L315,120.56L315.5,120.7L316,120.84L316.5,120.98L317,121.12L317.5,121.25L318,121.37L318.5,121.49L319,121.59L319.5,121.69L320,121.78L320.5,121.86L321,121.93L321.5,121.99L322,122.03L322.5,122.07L323,122.1L323.5,122.11L324,122.12L324.5,122.11L325,122.09L325.5,122.05L326,122.01L326.5,121.94L327,121.87L327.5,121.78L328,121.67L328.5,121.55L329,121.41L329.5,121.25L330,121.09L330.5,120.91L331,120.72L331.5,120.52L332,120.32L332.5,120.11L333,119.91L333.5,119.72L334,119.54L334.5,119.37L335,119.23L335.5,119.1L336,119.01L336.5,118.94L337,118.91L337.5,118.9L338,118.93L338.5,118.99L339,119.08L339.5,119.2L340,119.34L340.5,119.5L341,119.68L341.5,119.87L342,120.07L342.5,120.28L343,120.48L343.5,120.68L344,120.87L344.5,121.06L345,121.23L345.5,121.39L346,121.54L346.5,121.67L347,121.79L347.5,121.89L348,121.98L348.5,122.06L349,122.12L349.5,122.18L350,122.22L350.5,122.26L351,122.29L351.5,122.32L352,122.34L352.5,122.35L353,122.36L353.5,122.37L354,122.38L354.5,122.39L355,122.39L355.5,122.39L356,122.39L356.5,122.4L357,122.4L357.5,122.4L358,122.4L358.5,122.4L359,122.4L359.5,122.4L360,122.4L360.5,122.4L361,122.4L361.5,122.4L362,122.4L362.5,122.4L363,122.4L363.5,122.4L364,122.4L364.5,122.4L365,122.4L365,122.4Z" fill="#f39a35"/>
<path d="M211.5,122.4L211.5,122.4L212,122.4L212.5,122.4L213,122.4L213.5,122.4L214,122.4L214.5,122.4L215,122.4L215.5,122.4L216,122.4L216.5,122.4L217,122.4L217.5,122.4L218,122.4L218.5,122.4L219,122.4L219.5,122.4L220,122.4L220.5,122.4L221,122.4L221.5,122.4L222,122.4L222.5,122.4L223,122.4L223.5,122.4L224,122.4L224.5,122.4L225,122.4L225.5,122.4L226,122.4L226.5,122.4L227,122.4L227.5,122.4L228,122.4L228.5,122.4L229,122.4L229.5,122.4L230,122.4L230.5,122.4L231,122.4L231.5,122.4L232,122.4L232.5,122.4L233,122.4L233.5,122.4L234,122.4L234.5,122.4L235,122.4L235.5,122.4L236,122.4L236.5,122.4L237,122.4L237.5,122.4L238,122.4L238.5,122.4L239,122.4L239.5,122.4L240,122.4L240.5,122.4L241,122.4L241.5,122.4L242,122.4L242.5,122.4L243,122.4L243.5,122.4L244,122.4L244.5,122.4L245,122.4L245.5,122.4L246,122.4L246.5,122.4L247,122.4L247.5,122.4L248,122.4L248.5,122.4L249,122.4L249.5,122.4L250,122.4L250.5,122.4L251,122.4L251.5,122.4L252,122.4L252.5,122.4L253,122.4L253.5,122.4L254,122.4L254.5,122.4L255,122.4L255.5,122.4L256,122.4L256.5,122.4L257,122.4L257.5,122.4L258,122.4L258.5,122.4L259,122.4L259.5,122.4L260,122.4L260.5,122.4L261,122.4L261.5,122.4L262,122.4L262.5,122.4L263,122.4L263.5,122.4L264,122.4L264.5,122.4L265,122.4L265.5,122.4L266,122.4L266.5,122.4L267,122.4L267.5,122.4L268,122.4L268.5,122.4L269,122.4L269.5,122.4L270,122.4L270.5,122.4L271,122.4L271.5,122.4L272,122.4L272.5,122.4L273,122.4L273.5,122.4L274,122.4L274.5,122.4L275,122.4L275.5,122.4L276,122.4L276.5,122.4L277,122.4L277.5,122.4L278,122.4L278.5,122.4L279,122.4L279.5,122.4L280,122.4L280.5,122.4L281,122.4L281.5,122.4L282,122.4L282.5,122.4L283,122.4L283.5,122.4L284,122.4L284.5,122.4L285,122.4L285.5,122.4L286,122.4L286.5,122.4L287,122.4L287.5,122.4L288,122.4L288.5,122.39L289,122.39L289.5,122.39L290,122.39L290.5,122.38L291,122.38L291.5,122.37L292,122.36L292.5,122.35L293,122.34L293.5,122.32L294,122.3L294.5,122.28L295,122.25L295.5,122.22L296,122.18L296.5,122.13L297,122.08L297.5,122.02L298,121.95L298.5,121.88L299,121.79L299.5,121.7L300,121.6L300.5,121.49L301,121.37L301.5,121.25L302,121.12L302.5,120.98L303,120.84L303.5,120.7L304,120.56L304.5,120.42L305,120.29L305.5,120.16L306,120.04L306.5,119.93L307,119.83L307.5,119.75L308,119.69L308.5,119.64L309,119.61L309.5,119.6L310,119.61L310.5,119.64L311,119.69L311.5,119.75L312,119.83L312.5,119.93L313,120.04L313.5,120.16L314,120.29L314.5,120.42L315,120.56L315.5,120.7L316,120.84L316.5,120.98L317,121.12L317.5,121.25L318,121.37L318.5,121.49L319,121.59L319.5,121.69L320,121.78L320.5,121.86L321,121.93L321.5,121.99L322,122.03L322.5,122.07L323,122.1L323.5,122.11L324,122.12L324.5,122.11L325,122.09L325.5,122.05L326,122.01L326.5,121.94L327,121.87L327.5,121.78L328,121.67L328.5,121.55L329,121.41L329.5,121.25L330,121.09L330.5,120.91L331,120.72L331.5,120.52L332,120.32L332.5,120.11L333,119.91L333.5,119.72L334,119.54L334.5,119.37L335,119.23L335.5,119.37L336,119.68L336.5,119.96L337,120.23L337.5,120.48L338,120.7L338.5,120.91L339,121.1L339.5,121.27L340,121.42L340.5,121.55L341,121.67L341.5,121.78L342,121.87L342.5,121.95L343,122.02L343.5,122.08L344,122.14L344.5,122.18L345,122.22L345.5,122.25L346,122.28L346.5,122.3L347,122.32L347.5,122.33L348,122.35L348.5,122.36L349,122.37L349.5,122.37L350,122.38L350.5,122.38L351,122.39L351.5,122.39L352,122.39L352.5,122.39L353,122.4L353.5,122.4L354,122.4L354.5,122.4L355,122.4L355.5,122.4L356,122.4L356.5,122.4L357,122.4L357.5,122.4L358,122.4L358.5,122.4L359,122.4L359.5,122.4L360,122.4L360.5,122.4L361,122.4L361.5,122.4L362,122.4L362.5,122.4L363,122.4L363.5,122.4L364,122.4L364.5,122.4L365,122.4L365,122.4Z" fill="#d9861e"/>
<path d="M211.5,122.4L212,122.4L212.5,122.4L213,122.4L213.5,122.4L214,122.4L214.5,122.4L215,122.4L215.5,122.4L216,122.4L216.5,122.4L217,122.4L217.5,122.4L218,122.4L218.5,122.4L219,122.4L219.5,122.4L220,122.4L220.5,122.4L221,122.4L221.5,122.4L222,122.4L222.5,122.4L223,122.4L223.5,122.4L224,122.4L224.5,122.4L225,122.4L225.5,122.4L226,122.4L226.5,122.4L227,122.4L227.5,122.4L228,122.4L228.5,122.4L229,122.4L229.5,122.4L230,122.4L230.5,122.4L231,122.4L231.5,122.4L232,122.4L232.5,122.4L233,122.4L233.5,122.4L234,122.4L234.5,122.4L235,122.4L235.5,122.4L236,122.4L236.5,122.4L237,122.4L237.5,122.4L238,122.4L238.5,122.4L239,122.4L239.5,122.4L240,122.4L240.5,122.4L241,122.4L241.5,122.4L242,122.4L242.5,122.4L243,122.4L243.5,122.4L244,122.4L244.5,122.4L245,122.4L245.5,122.4L246,122.4L246.5,122.4L247,122.4L247.5,122.4L248,122.4L248.5,122.4L249,122.4L249.5,122.4L250,122.4L250.5,122.4L251,122.4L251.5,122.4L252,122.4L252.5,122.4L253,122.4L253.5,122.4L254,122.4L254.5,122.4L255,122.4L255.5,122.4L256,122.4L256.5,122.4L257,122.4L257.5,122.4L258,122.4L258.5,122.4L259,122.4L259.5,122.4L260,122.4L260.5,122.4L261,122.4L261.5,122.4L262,122.4L262.5,122.4L263,122.4L263.5,122.4L264,122.4L264.5,122.4L265,122.4L265.5,122.4L266,122.4L266.5,122.4L267,122.4L267.5,122.4L268,122.4L268.5,122.4L269,122.4L269.5,122.4L270,122.4L270.5,122.4L271,122.4L271.5,122.4L272,122.4L272.5,122.4L273,122.4L273.5,122.4L274,122.4L274.5,122.4L275,122.4L275.5,122.4L276,122.4L276.5,122.4L277,122.4L277.5,122.4L278,122.4L278.5,122.4L279,122.4L279.5,122.4L280,122.4L280.5,122.4L281,122.4L281.5,122.4L282,122.4L282.5,122.4L283,122.4L283.5,122.4L284,122.4L284.5,122.4L285,122.4L285.5,122.4L286,122.4L286.5,122.4L287,122.4L287.5,122.4L288,122.4L288.5,122.39L289,122.39L289.5,122.39L290,122.39L290.5,122.38L291,122.38L291.5,122.37L292,122.36L292.5,122.35L293,122.34L293.5,122.32L294,122.3L294.5,122.28L295,122.25L295.5,122.22L296,122.18L296.5,122.13L297,122.08L297.5,122.02L298,121.95L298.5,121.88L299,121.79L299.5,121.7L300,121.6L300.5,121.49L301,121.37L301.5,121.25L302,121.12L302.5,120.98L303,120.84L303.5,120.7L304,120.56L304.5,120.42L305,120.29L305.5,120.16L306,120.04L306.5,119.93L307,119.83L307.5,119.75L308,119.69L308.5,119.64L309,119.61L309.5,119.6L310,119.61L310.5,119.64L311,119.69L311.5,119.75L312,119.83L312.5,119.93L313,120.04L313.5,120.16L314,120.29L314.5,120.42L315,120.56L315.5,120.7L316,120.84L316.5,120.98L317,121.12L317.5,121.25L318,121.37L318.5,121.49L319,121.59L319.5,121.69L320,121.78L320.5,121.86L321,121.93L321.5,121.99L322,122.03L322.5,122.07L323,122.1L323.5,122.11L324,122.12L324.5,122.11L325,122.09L325.5,122.05L326,122.01L326.5,121.94L327,121.87L327.5,121.78L328,121.67L328.5,121.55L329,121.41L329.5,121.25L330,121.09L330.5,120.91L331,120.72L331.5,120.52L332,120.32L332.5,120.11L333,119.91L333.5,119.72L334,119.54L334.5,119.37L335,119.23L335.5,119.1L336,119.01L336.5,118.94L337,118.91L337.5,118.9L338,118.93L338.5,118.99L339,119.08L339.5,119.2L340,119.34L340.5,119.5L341,119.68L341.5,119.87L342,120.07L342.5,120.28L343,120.48L343.5,120.68L344,120.87L344.5,121.06L345,121.23L345.5,121.39L346,121.54L346.5,121.67L347,121.79L347.5,121.89L348,121.98L348.5,122.06L349,122.12L349.5,122.18L350,122.22L350.5,122.26L351,122.29L351.5,122.32L352,122.34L352.5,122.35L353,122.36L353.5,122.37L354,122.38L354.5,122.39L355,122.39L355.5,122.39L356,122.39L356.5,122.4L357,122.4L357.5,122.4L358,122.4L358.5,122.4L359,122.4L359.5,122.4L360,122.4L360.5,122.4L361,122.4L361.5,122.4L362,122.4L362.5,122.4L363,122.4L363.5,122.4L364,122.4L364.5,122.4L365,122.4" fill="none" stroke="#f0a040" stroke-width="0.9"/>
<path d="M210.8,122.5v-2.3M241.86,122.5v-2.3M272.92,122.5v-2.3M303.98,122.5v-2.3M335.04,122.5v-2.3M366.1,122.5v-2.3M226.33,122.5v-1.3M257.39,122.5v-1.3M288.45,122.5v-1.3M319.51,122.5v-1.3M350.57,122.5v-1.3" stroke="#2b2b2b" stroke-width="0.9" fill="none" stroke-opacity="0.55"/>
<text transform="translate(210.8,131.6) scale(1,1.12)" text-anchor="middle" class="tk">22</text>
<text transform="translate(241.86,131.6) scale(1,1.12)" text-anchor="middle" class="tk">20</text>
<text transform="translate(272.92,131.6) scale(1,1.12)" text-anchor="middle" class="tk">18</text>
<text transform="translate(303.98,131.6) scale(1,1.12)" text-anchor="middle" class="tk">16</text>
<text transform="translate(335.04,131.6) scale(1,1.12)" text-anchor="middle" class="tk">14</text>
<text transform="translate(366.1,131.6) scale(1,1.12)" text-anchor="middle" class="tk">12</text>
<line x1="210.8" x2="366.1" y1="122.75" y2="122.75" stroke="#e0821e" stroke-width="1.6"/>
<path d="M211.5,122.1L212,122.1L212.5,122.1L213,122.1L213.5,122.1L214,122.1L214.5,122.09L215,122.09L215.5,122.09L216,122.09L216.5,122.08L217,122.08L217.5,122.07L218,122.07L218.5,122.06L219,122.05L219.5,122.04L220,122.03L220.5,122.01L221,121.99L221.5,121.97L222,121.95L222.5,121.92L223,121.88L223.5,121.85L224,121.8L224.5,121.75L225,121.7L225.5,121.63L226,121.56L226.5,121.48L227,121.39L227.5,121.29L228,121.17L228.5,121.04L229,120.89L229.5,120.72L230,120.53L230.5,120.32L231,120.08L231.5,119.81L232,119.51L232.5,119.17L233,118.8L233.5,118.38L234,117.92L234.5,117.41L235,116.85L235.5,116.24L236,115.57L236.5,114.84L237,114.05L237.5,113.19L238,112.27L238.5,111.28L239,110.23L239.5,109.11L240,107.93L240.5,106.68L241,105.37L241.5,104L242,102.58L242.5,101.1L243,99.59L243.5,98.03L244,96.44L244.5,94.83L245,93.2L245.5,91.56L246,89.92L246.5,88.29L247,86.69L247.5,85.11L248,83.58L248.5,82.09L249,80.67L249.5,79.31L250,78.04L250.5,76.85L251,75.75L251.5,74.76L252,73.87L252.5,73.1L253,72.45L253.5,71.92L254,71.51L254.5,71.22L255,71.06L255.5,71.01L256,71.07L256.5,71.23L257,71.49L257.5,71.84L258,72.26L258.5,72.74L259,73.26L259.5,73.82L260,74.39L260.5,74.96L261,75.51L261.5,76.04L262,76.52L262.5,76.94L263,77.29L263.5,77.57L264,77.75L264.5,77.84L265,77.82L265.5,77.69L266,77.46L266.5,77.1L267,76.63L267.5,76.04L268,75.33L268.5,74.51L269,73.57L269.5,72.52L270,71.36L270.5,70.11L271,68.76L271.5,67.34L272,65.84L272.5,64.29L273,62.7L273.5,61.09L274,59.47L274.5,57.86L275,56.29L275.5,54.76L276,53.31L276.5,51.94L277,50.68L277.5,49.55L278,48.55L278.5,47.71L279,47.04L279.5,46.54L280,46.22L280.5,46.09L281,46.15L281.5,46.41L282,46.85L282.5,47.48L283,48.29L283.5,49.28L284,50.42L284.5,51.72L285,53.15L285.5,54.7L286,56.36L286.5,58.11L287,59.94L287.5,61.83L288,63.76L288.5,65.71L289,67.68L289.5,69.64L290,71.58L290.5,73.5L291,75.37L291.5,77.18L292,78.93L292.5,80.62L293,82.22L293.5,83.74L294,85.18L294.5,86.53L295,87.79L295.5,88.96L296,90.04L296.5,91.03L297,91.95L297.5,92.78L298,93.54L298.5,94.22L299,94.85L299.5,95.41L300,95.92L300.5,96.39L301,96.81L301.5,97.2L302,97.57L302.5,97.9L303,98.23L303.5,98.54L304,98.85L304.5,99.15L305,99.46L305.5,99.77L306,100.09L306.5,100.43L307,100.77L307.5,101.14L308,101.51L308.5,101.91L309,102.31L309.5,102.73L310,103.16L310.5,103.6L311,104.04L311.5,104.48L312,104.93L312.5,105.36L313,105.79L313.5,106.2L314,106.6L314.5,106.97L315,107.33L315.5,107.66L316,107.97L316.5,108.25L317,108.51L317.5,108.74L318,108.95L318.5,109.14L319,109.3L319.5,109.45L320,109.59L320.5,109.72L321,109.84L321.5,109.95L322,110.07L322.5,110.19L323,110.31L323.5,110.44L324,110.57L324.5,110.72L325,110.87L325.5,111.03L326,111.2L326.5,111.38L327,111.56L327.5,111.74L328,111.93L328.5,112.11L329,112.29L329.5,112.47L330,112.65L330.5,112.81L331,112.98L331.5,113.14L332,113.29L332.5,113.44L333,113.6L333.5,113.76L334,113.92L334.5,114.1L335,114.29L335.5,114.49L336,114.71L336.5,114.96L337,115.22L337.5,115.51L338,115.82L338.5,116.15L339,116.49L339.5,116.85L340,117.22L340.5,117.59L341,117.97L341.5,118.35L342,118.71L342.5,119.07L343,119.41L343.5,119.73L344,120.03L344.5,120.3L345,120.56L345.5,120.78L346,120.99L346.5,121.17L347,121.33L347.5,121.46L348,121.58L348.5,121.68L349,121.76L349.5,121.83L350,121.89L350.5,121.93L351,121.97L351.5,122L352,122.02L352.5,122.04L353,122.06L353.5,122.07L354,122.08L354.5,122.08L355,122.09L355.5,122.09L356,122.09L356.5,122.1L357,122.1L357.5,122.1L358,122.1L358.5,122.1L359,122.1L359.5,122.1L360,122.1L360.5,122.1L361,122.1L361.5,122.1L362,122.1L362.5,122.1L363,122.1L363.5,122.1L364,122.1L364.5,122.1L365,122.1" fill="none" stroke="#1a1a1a" stroke-width="1.1"/>
<text transform="translate(204.3,69) rotate(-90)" text-anchor="middle" class="lb" font-size="8.8">Intensity (a.u.)</text>
<text transform="translate(288.4,141.7) scale(1,1.12)" text-anchor="middle" class="lb" font-size="8.82">Binding energy (eV)</text>
<text transform="translate(216.6,21.3) scale(1,1.12)" class="lb" font-size="9.7">(c) DP-HfO<tspan font-size="7" dy="1.9">2</tspan></text>
<text transform="translate(217,35.6) scale(1,1.12)" class="lb" font-size="10">Hf 4f</text>
<line x1="322.1" x2="342.6" y1="21" y2="21" stroke="#3030ff" stroke-width="1.5"/>
<text transform="translate(344.7,24) scale(1,1.12)" class="lb" font-size="7.7">Hf<tspan font-size="6.4" dx="0.6" dy="-4.2">4+</tspan></text>
<line x1="322.1" x2="342.6" y1="36.15" y2="36.15" stroke="#3a9a3a" stroke-width="1.5"/>
<text transform="translate(344.7,39.15) scale(1,1.12)" class="lb" font-size="7.7">Hf<tspan font-size="6.4" dx="0.6" dy="-4.2">x+</tspan></text>
<line x1="322.1" x2="342.6" y1="51.3" y2="51.3" stroke="#f5a040" stroke-width="1.5"/>
<text transform="translate(344.7,54.3) scale(1,1.12)" class="lb" font-size="7.7">Hf<tspan font-size="6.4" dx="0.6" dy="-4.2">0</tspan></text>
<text transform="translate(329.5,79) scale(1,1.12)" text-anchor="middle" class="lb" font-size="8.45" style="fill:#20a020;stroke:#20a020">Hf-suboxide</text>
<text transform="translate(329.5,89) scale(1,1.12)" text-anchor="middle" class="lb" font-size="8.45" style="fill:#20a020;stroke:#20a020">(25.00%)</text>
<line x1="326.3" y1="91.7" x2="319.04" y2="103.09" stroke="#20a020" stroke-width="1.15"/>
<path d="M317,106.3L317.44,102.07L320.64,104.12Z" fill="#20a020"/>
<rect x="210.8" y="151.3" width="155.3" height="115.6" fill="none" stroke="#2b2b2b" stroke-width="1.3"/>
<path d="M211.5,266.8L211.5,266.79L212,266.79L212.5,266.79L213,266.78L213.5,266.78L214,266.77L214.5,266.77L215,266.76L215.5,266.75L216,266.74L216.5,266.72L217,266.71L217.5,266.69L218,266.66L218.5,266.64L219,266.6L219.5,266.56L220,266.52L220.5,266.46L221,266.4L221.5,266.33L222,266.24L222.5,266.14L223,266.03L223.5,265.9L224,265.75L224.5,265.57L225,265.37L225.5,265.15L226,264.89L226.5,264.6L227,264.28L227.5,263.91L228,263.5L228.5,263.04L229,262.53L229.5,261.97L230,261.34L230.5,260.66L231,259.9L231.5,259.08L232,258.18L232.5,257.21L233,256.15L233.5,255.01L234,253.79L234.5,252.48L235,251.08L235.5,249.6L236,248.03L236.5,246.37L237,244.63L237.5,242.81L238,240.91L238.5,238.94L239,236.91L239.5,234.81L240,232.67L240.5,230.49L241,228.28L241.5,226.05L242,223.81L242.5,221.58L243,219.36L243.5,217.18L244,215.04L244.5,212.97L245,210.97L245.5,209.06L246,207.25L246.5,205.55L247,203.99L247.5,202.57L248,201.31L248.5,200.2L249,199.27L249.5,198.53L250,197.96L250.5,197.59L251,197.42L251.5,197.44L252,197.65L252.5,198.06L253,198.66L253.5,199.45L254,200.41L254.5,201.55L255,202.85L255.5,204.29L256,205.88L256.5,207.6L257,209.43L257.5,211.36L258,213.38L258.5,215.47L259,217.61L259.5,219.8L260,222.02L260.5,224.26L261,226.5L261.5,228.72L262,230.93L262.5,233.11L263,235.24L263.5,237.32L264,239.34L264.5,239.12L265,236.54L265.5,233.84L266,231.02L266.5,228.09L267,225.06L267.5,221.94L268,218.75L268.5,215.52L269,212.24L269.5,208.96L270,205.68L270.5,202.44L271,199.25L271.5,196.14L272,193.14L272.5,190.28L273,187.56L273.5,185.03L274,182.71L274.5,180.61L275,178.75L275.5,177.16L276,175.85L276.5,174.83L277,174.11L277.5,173.7L278,173.61L278.5,173.83L279,174.36L279.5,175.2L280,176.34L280.5,177.76L281,179.46L281.5,181.42L282,183.61L282.5,186.02L283,188.63L283.5,191.4L284,194.33L284.5,197.37L285,200.52L285.5,203.73L286,206.99L286.5,210.27L287,213.55L287.5,216.82L288,220.04L288.5,223.2L289,226.28L289.5,229.27L290,232.16L290.5,234.94L291,237.59L291.5,240.11L292,242.49L292.5,244.74L293,246.85L293.5,248.82L294,250.64L294.5,252.33L295,253.89L295.5,255.32L296,256.62L296.5,257.81L297,258.89L297.5,259.86L298,260.73L298.5,261.51L299,262.21L299.5,262.82L300,263.37L300.5,263.85L301,264.27L301.5,264.64L302,264.96L302.5,265.24L303,265.48L303.5,265.69L304,265.87L304.5,266.02L305,266.15L305.5,266.26L306,266.35L306.5,266.43L307,266.5L307.5,266.55L308,266.6L308.5,266.63L309,266.67L309.5,266.69L310,266.71L310.5,266.73L311,266.74L311.5,266.75L312,266.76L312.5,266.77L313,266.78L313.5,266.78L314,266.79L314.5,266.79L315,266.79L315.5,266.79L316,266.79L316.5,266.8L317,266.8L317.5,266.8L318,266.8L318.5,266.8L319,266.8L319.5,266.8L320,266.8L320.5,266.8L321,266.8L321.5,266.8L322,266.8L322.5,266.8L323,266.8L323.5,266.8L324,266.8L324.5,266.8L325,266.8L325.5,266.8L326,266.8L326.5,266.8L327,266.8L327.5,266.8L328,266.8L328.5,266.8L329,266.8L329.5,266.8L330,266.8L330.5,266.8L331,266.8L331.5,266.8L332,266.8L332.5,266.8L333,266.8L333.5,266.8L334,266.8L334.5,266.8L335,266.8L335.5,266.8L336,266.8L336.5,266.8L337,266.8L337.5,266.8L338,266.8L338.5,266.8L339,266.8L339.5,266.8L340,266.8L340.5,266.8L341,266.8L341.5,266.8L342,266.8L342.5,266.8L343,266.8L343.5,266.8L344,266.8L344.5,266.8L345,266.8L345.5,266.8L346,266.8L346.5,266.8L347,266.8L347.5,266.8L348,266.8L348.5,266.8L349,266.8L349.5,266.8L350,266.8L350.5,266.8L351,266.8L351.5,266.8L352,266.8L352.5,266.8L353,266.8L353.5,266.8L354,266.8L354.5,266.8L355,266.8L355.5,266.8L356,266.8L356.5,266.8L357,266.8L357.5,266.8L358,266.8L358.5,266.8L359,266.8L359.5,266.8L360,266.8L360.5,266.8L361,266.8L361.5,266.8L362,266.8L362.5,266.8L363,266.8L363.5,266.8L364,266.8L364.5,266.8L365,266.8L365,266.8Z" fill="#8282f5"/>
<path d="M211.5,266.8L211.5,266.8L212,266.8L212.5,266.8L213,266.8L213.5,266.8L214,266.8L214.5,266.8L215,266.8L215.5,266.8L216,266.8L216.5,266.8L217,266.8L217.5,266.8L218,266.8L218.5,266.8L219,266.8L219.5,266.8L220,266.8L220.5,266.8L221,266.8L221.5,266.8L222,266.8L222.5,266.8L223,266.8L223.5,266.8L224,266.8L224.5,266.8L225,266.8L225.5,266.8L226,266.8L226.5,266.8L227,266.8L227.5,266.8L228,266.8L228.5,266.8L229,266.8L229.5,266.8L230,266.8L230.5,266.8L231,266.8L231.5,266.8L232,266.8L232.5,266.8L233,266.8L233.5,266.8L234,266.8L234.5,266.8L235,266.8L235.5,266.8L236,266.8L236.5,266.8L237,266.8L237.5,266.8L238,266.8L238.5,266.8L239,266.8L239.5,266.8L240,266.79L240.5,266.79L241,266.79L241.5,266.79L242,266.78L242.5,266.78L243,266.78L243.5,266.77L244,266.76L244.5,266.75L245,266.74L245.5,266.72L246,266.7L246.5,266.68L247,266.65L247.5,266.62L248,266.58L248.5,266.53L249,266.47L249.5,266.4L250,266.32L250.5,266.22L251,266.1L251.5,265.96L252,265.8L252.5,265.61L253,265.39L253.5,265.13L254,264.84L254.5,264.5L255,264.11L255.5,263.66L256,263.16L256.5,262.58L257,261.94L257.5,261.21L258,260.39L258.5,259.48L259,258.47L259.5,257.35L260,256.12L260.5,254.76L261,253.28L261.5,251.67L262,249.93L262.5,248.05L263,246.02L263.5,243.86L264,241.56L264.5,241.29L265,243.18L265.5,244.98L266,246.71L266.5,248.35L267,249.9L267.5,251.37L268,252.75L268.5,254.04L269,255.25L269.5,256.37L270,257.41L270.5,258.37L271,259.25L271.5,260.06L272,260.8L272.5,261.47L273,262.09L273.5,262.64L274,263.14L274.5,263.58L275,263.99L275.5,264.34L276,264.66L276.5,264.95L277,265.19L277.5,265.41L278,265.61L278.5,265.78L279,265.92L279.5,266.05L280,266.16L280.5,266.26L281,266.34L281.5,266.42L282,266.48L282.5,266.53L283,266.57L283.5,266.61L284,266.64L284.5,266.67L285,266.69L285.5,266.71L286,266.73L286.5,266.74L287,266.75L287.5,266.76L288,266.77L288.5,266.77L289,266.78L289.5,266.78L290,266.79L290.5,266.79L291,266.79L291.5,266.79L292,266.79L292.5,266.8L293,266.8L293.5,266.8L294,266.8L294.5,266.8L295,266.8L295.5,266.8L296,266.8L296.5,266.8L297,266.8L297.5,266.8L298,266.8L298.5,266.8L299,266.8L299.5,266.8L300,266.8L300.5,266.8L301,266.8L301.5,266.8L302,266.8L302.5,266.8L303,266.8L303.5,266.8L304,266.8L304.5,266.8L305,266.8L305.5,266.8L306,266.8L306.5,266.8L307,266.8L307.5,266.8L308,266.8L308.5,266.8L309,266.8L309.5,266.8L310,266.8L310.5,266.8L311,266.8L311.5,266.8L312,266.8L312.5,266.8L313,266.8L313.5,266.8L314,266.8L314.5,266.8L315,266.8L315.5,266.8L316,266.8L316.5,266.8L317,266.8L317.5,266.8L318,266.8L318.5,266.8L319,266.8L319.5,266.8L320,266.8L320.5,266.8L321,266.8L321.5,266.8L322,266.8L322.5,266.8L323,266.8L323.5,266.8L324,266.8L324.5,266.8L325,266.8L325.5,266.8L326,266.8L326.5,266.8L327,266.8L327.5,266.8L328,266.8L328.5,266.8L329,266.8L329.5,266.8L330,266.8L330.5,266.8L331,266.8L331.5,266.8L332,266.8L332.5,266.8L333,266.8L333.5,266.8L334,266.8L334.5,266.8L335,266.8L335.5,266.8L336,266.8L336.5,266.8L337,266.8L337.5,266.8L338,266.8L338.5,266.8L339,266.8L339.5,266.8L340,266.8L340.5,266.8L341,266.8L341.5,266.8L342,266.8L342.5,266.8L343,266.8L343.5,266.8L344,266.8L344.5,266.8L345,266.8L345.5,266.8L346,266.8L346.5,266.8L347,266.8L347.5,266.8L348,266.8L348.5,266.8L349,266.8L349.5,266.8L350,266.8L350.5,266.8L351,266.8L351.5,266.8L352,266.8L352.5,266.8L353,266.8L353.5,266.8L354,266.8L354.5,266.8L355,266.8L355.5,266.8L356,266.8L356.5,266.8L357,266.8L357.5,266.8L358,266.8L358.5,266.8L359,266.8L359.5,266.8L360,266.8L360.5,266.8L361,266.8L361.5,266.8L362,266.8L362.5,266.8L363,266.8L363.5,266.8L364,266.8L364.5,266.8L365,266.8L365,266.8Z" fill="#2a2af0"/>
<path d="M211.5,266.79L212,266.79L212.5,266.79L213,266.78L213.5,266.78L214,266.77L214.5,266.77L215,266.76L215.5,266.75L216,266.74L216.5,266.72L217,266.71L217.5,266.69L218,266.66L218.5,266.64L219,266.6L219.5,266.56L220,266.52L220.5,266.46L221,266.4L221.5,266.33L222,266.24L222.5,266.14L223,266.03L223.5,265.9L224,265.75L224.5,265.57L225,265.37L225.5,265.15L226,264.89L226.5,264.6L227,264.28L227.5,263.91L228,263.5L228.5,263.04L229,262.53L229.5,261.97L230,261.34L230.5,260.66L231,259.9L231.5,259.08L232,258.18L232.5,257.21L233,256.15L233.5,255.01L234,253.79L234.5,252.48L235,251.08L235.5,249.6L236,248.03L236.5,246.37L237,244.63L237.5,242.81L238,240.91L238.5,238.94L239,236.91L239.5,234.81L240,232.67L240.5,230.49L241,228.28L241.5,226.05L242,223.81L242.5,221.58L243,219.36L243.5,217.18L244,215.04L244.5,212.97L245,210.97L245.5,209.06L246,207.25L246.5,205.55L247,203.99L247.5,202.57L248,201.31L248.5,200.2L249,199.27L249.5,198.53L250,197.96L250.5,197.59L251,197.42L251.5,197.44L252,197.65L252.5,198.06L253,198.66L253.5,199.45L254,200.41L254.5,201.55L255,202.85L255.5,204.29L256,205.88L256.5,207.6L257,209.43L257.5,211.36L258,213.38L258.5,215.47L259,217.61L259.5,219.8L260,222.02L260.5,224.26L261,226.5L261.5,228.72L262,230.93L262.5,233.11L263,235.24L263.5,237.32L264,239.34L264.5,241.29L265,243.18L265.5,244.98L266,246.71L266.5,248.35L267,249.9L267.5,251.37L268,252.75L268.5,254.04L269,255.25L269.5,256.37L270,257.41L270.5,258.37L271,259.25L271.5,260.06L272,260.8L272.5,261.47L273,262.09L273.5,262.64L274,263.14L274.5,263.58L275,263.99L275.5,264.34L276,264.66L276.5,264.95L277,265.19L277.5,265.41L278,265.61L278.5,265.78L279,265.92L279.5,266.05L280,266.16L280.5,266.26L281,266.34L281.5,266.42L282,266.48L282.5,266.53L283,266.57L283.5,266.61L284,266.64L284.5,266.67L285,266.69L285.5,266.71L286,266.73L286.5,266.74L287,266.75L287.5,266.76L288,266.77L288.5,266.77L289,266.78L289.5,266.78L290,266.79L290.5,266.79L291,266.79L291.5,266.79L292,266.79L292.5,266.8L293,266.8L293.5,266.8L294,266.8L294.5,266.8L295,266.8L295.5,266.8L296,266.8L296.5,266.8L297,266.8L297.5,266.8L298,266.8L298.5,266.8L299,266.8L299.5,266.8L300,266.8L300.5,266.8L301,266.8L301.5,266.8L302,266.8L302.5,266.8L303,266.8L303.5,266.8L304,266.8L304.5,266.8L305,266.8L305.5,266.8L306,266.8L306.5,266.8L307,266.8L307.5,266.8L308,266.8L308.5,266.8L309,266.8L309.5,266.8L310,266.8L310.5,266.8L311,266.8L311.5,266.8L312,266.8L312.5,266.8L313,266.8L313.5,266.8L314,266.8L314.5,266.8L315,266.8L315.5,266.8L316,266.8L316.5,266.8L317,266.8L317.5,266.8L318,266.8L318.5,266.8L319,266.8L319.5,266.8L320,266.8L320.5,266.8L321,266.8L321.5,266.8L322,266.8L322.5,266.8L323,266.8L323.5,266.8L324,266.8L324.5,266.8L325,266.8L325.5,266.8L326,266.8L326.5,266.8L327,266.8L327.5,266.8L328,266.8L328.5,266.8L329,266.8L329.5,266.8L330,266.8L330.5,266.8L331,266.8L331.5,266.8L332,266.8L332.5,266.8L333,266.8L333.5,266.8L334,266.8L334.5,266.8L335,266.8L335.5,266.8L336,266.8L336.5,266.8L337,266.8L337.5,266.8L338,266.8L338.5,266.8L339,266.8L339.5,266.8L340,266.8L340.5,266.8L341,266.8L341.5,266.8L342,266.8L342.5,266.8L343,266.8L343.5,266.8L344,266.8L344.5,266.8L345,266.8L345.5,266.8L346,266.8L346.5,266.8L347,266.8L347.5,266.8L348,266.8L348.5,266.8L349,266.8L349.5,266.8L350,266.8L350.5,266.8L351,266.8L351.5,266.8L352,266.8L352.5,266.8L353,266.8L353.5,266.8L354,266.8L354.5,266.8L355,266.8L355.5,266.8L356,266.8L356.5,266.8L357,266.8L357.5,266.8L358,266.8L358.5,266.8L359,266.8L359.5,266.8L360,266.8L360.5,266.8L361,266.8L361.5,266.8L362,266.8L362.5,266.8L363,266.8L363.5,266.8L364,266.8L364.5,266.8L365,266.8" fill="none" stroke="#1010ff" stroke-width="1"/>
<path d="M211.5,266.8L212,266.8L212.5,266.8L213,266.8L213.5,266.8L214,266.8L214.5,266.8L215,266.8L215.5,266.8L216,266.8L216.5,266.8L217,266.8L217.5,266.8L218,266.8L218.5,266.8L219,266.8L219.5,266.8L220,266.8L220.5,266.8L221,266.8L221.5,266.8L222,266.8L222.5,266.8L223,266.8L223.5,266.8L224,266.8L224.5,266.8L225,266.8L225.5,266.8L226,266.8L226.5,266.8L227,266.8L227.5,266.8L228,266.8L228.5,266.8L229,266.8L229.5,266.8L230,266.8L230.5,266.8L231,266.8L231.5,266.8L232,266.8L232.5,266.8L233,266.8L233.5,266.8L234,266.8L234.5,266.8L235,266.8L235.5,266.8L236,266.8L236.5,266.8L237,266.8L237.5,266.8L238,266.8L238.5,266.8L239,266.8L239.5,266.8L240,266.79L240.5,266.79L241,266.79L241.5,266.79L242,266.78L242.5,266.78L243,266.78L243.5,266.77L244,266.76L244.5,266.75L245,266.74L245.5,266.72L246,266.7L246.5,266.68L247,266.65L247.5,266.62L248,266.58L248.5,266.53L249,266.47L249.5,266.4L250,266.32L250.5,266.22L251,266.1L251.5,265.96L252,265.8L252.5,265.61L253,265.39L253.5,265.13L254,264.84L254.5,264.5L255,264.11L255.5,263.66L256,263.16L256.5,262.58L257,261.94L257.5,261.21L258,260.39L258.5,259.48L259,258.47L259.5,257.35L260,256.12L260.5,254.76L261,253.28L261.5,251.67L262,249.93L262.5,248.05L263,246.02L263.5,243.86L264,241.56L264.5,239.12L265,236.54L265.5,233.84L266,231.02L266.5,228.09L267,225.06L267.5,221.94L268,218.75L268.5,215.52L269,212.24L269.5,208.96L270,205.68L270.5,202.44L271,199.25L271.5,196.14L272,193.14L272.5,190.28L273,187.56L273.5,185.03L274,182.71L274.5,180.61L275,178.75L275.5,177.16L276,175.85L276.5,174.83L277,174.11L277.5,173.7L278,173.61L278.5,173.83L279,174.36L279.5,175.2L280,176.34L280.5,177.76L281,179.46L281.5,181.42L282,183.61L282.5,186.02L283,188.63L283.5,191.4L284,194.33L284.5,197.37L285,200.52L285.5,203.73L286,206.99L286.5,210.27L287,213.55L287.5,216.82L288,220.04L288.5,223.2L289,226.28L289.5,229.27L290,232.16L290.5,234.94L291,237.59L291.5,240.11L292,242.49L292.5,244.74L293,246.85L293.5,248.82L294,250.64L294.5,252.33L295,253.89L295.5,255.32L296,256.62L296.5,257.81L297,258.89L297.5,259.86L298,260.73L298.5,261.51L299,262.21L299.5,262.82L300,263.37L300.5,263.85L301,264.27L301.5,264.64L302,264.96L302.5,265.24L303,265.48L303.5,265.69L304,265.87L304.5,266.02L305,266.15L305.5,266.26L306,266.35L306.5,266.43L307,266.5L307.5,266.55L308,266.6L308.5,266.63L309,266.67L309.5,266.69L310,266.71L310.5,266.73L311,266.74L311.5,266.75L312,266.76L312.5,266.77L313,266.78L313.5,266.78L314,266.79L314.5,266.79L315,266.79L315.5,266.79L316,266.79L316.5,266.8L317,266.8L317.5,266.8L318,266.8L318.5,266.8L319,266.8L319.5,266.8L320,266.8L320.5,266.8L321,266.8L321.5,266.8L322,266.8L322.5,266.8L323,266.8L323.5,266.8L324,266.8L324.5,266.8L325,266.8L325.5,266.8L326,266.8L326.5,266.8L327,266.8L327.5,266.8L328,266.8L328.5,266.8L329,266.8L329.5,266.8L330,266.8L330.5,266.8L331,266.8L331.5,266.8L332,266.8L332.5,266.8L333,266.8L333.5,266.8L334,266.8L334.5,266.8L335,266.8L335.5,266.8L336,266.8L336.5,266.8L337,266.8L337.5,266.8L338,266.8L338.5,266.8L339,266.8L339.5,266.8L340,266.8L340.5,266.8L341,266.8L341.5,266.8L342,266.8L342.5,266.8L343,266.8L343.5,266.8L344,266.8L344.5,266.8L345,266.8L345.5,266.8L346,266.8L346.5,266.8L347,266.8L347.5,266.8L348,266.8L348.5,266.8L349,266.8L349.5,266.8L350,266.8L350.5,266.8L351,266.8L351.5,266.8L352,266.8L352.5,266.8L353,266.8L353.5,266.8L354,266.8L354.5,266.8L355,266.8L355.5,266.8L356,266.8L356.5,266.8L357,266.8L357.5,266.8L358,266.8L358.5,266.8L359,266.8L359.5,266.8L360,266.8L360.5,266.8L361,266.8L361.5,266.8L362,266.8L362.5,266.8L363,266.8L363.5,266.8L364,266.8L364.5,266.8L365,266.8" fill="none" stroke="#1010ff" stroke-width="1"/>
<path d="M211.5,266.8L211.5,266.8L212,266.8L212.5,266.8L213,266.8L213.5,266.8L214,266.8L214.5,266.8L215,266.8L215.5,266.8L216,266.8L216.5,266.8L217,266.8L217.5,266.8L218,266.8L218.5,266.8L219,266.8L219.5,266.8L220,266.8L220.5,266.8L221,266.8L221.5,266.8L222,266.8L222.5,266.8L223,266.8L223.5,266.8L224,266.8L224.5,266.8L225,266.8L225.5,266.8L226,266.8L226.5,266.8L227,266.8L227.5,266.8L228,266.8L228.5,266.8L229,266.8L229.5,266.8L230,266.8L230.5,266.8L231,266.8L231.5,266.8L232,266.8L232.5,266.8L233,266.8L233.5,266.8L234,266.8L234.5,266.8L235,266.8L235.5,266.8L236,266.8L236.5,266.8L237,266.8L237.5,266.8L238,266.8L238.5,266.8L239,266.79L239.5,266.79L240,266.79L240.5,266.79L241,266.79L241.5,266.79L242,266.78L242.5,266.78L243,266.78L243.5,266.77L244,266.77L244.5,266.76L245,266.76L245.5,266.75L246,266.74L246.5,266.73L247,266.71L247.5,266.7L248,266.68L248.5,266.66L249,266.64L249.5,266.62L250,266.59L250.5,266.56L251,266.53L251.5,266.49L252,266.44L252.5,266.39L253,266.34L253.5,266.28L254,266.21L254.5,266.14L255,266.06L255.5,265.97L256,265.88L256.5,265.77L257,265.66L257.5,265.54L258,265.41L258.5,265.27L259,265.12L259.5,264.95L260,264.78L260.5,264.6L261,264.41L261.5,264.21L262,264L262.5,263.78L263,263.56L263.5,263.32L264,263.08L264.5,262.83L265,262.58L265.5,262.32L266,262.05L266.5,261.79L267,261.52L267.5,261.25L268,260.98L268.5,260.72L269,260.46L269.5,260.2L270,259.96L270.5,259.71L271,259.48L271.5,259.26L272,259.05L272.5,258.85L273,258.66L273.5,258.49L274,258.33L274.5,258.18L275,258.05L275.5,257.93L276,257.83L276.5,257.73L277,257.65L277.5,257.58L278,257.52L278.5,257.47L279,257.42L279.5,257.38L280,257.34L280.5,257.3L281,257.26L281.5,257.22L282,257.17L282.5,257.11L283,257.04L283.5,256.96L284,256.86L284.5,256.75L285,256.62L285.5,256.47L286,256.29L286.5,256.1L287,255.89L287.5,255.65L288,255.39L288.5,255.1L289,254.8L289.5,254.48L290,254.14L290.5,253.78L291,253.4L291.5,253.02L292,252.63L292.5,252.23L293,251.83L293.5,251.43L294,251.03L294.5,250.65L295,250.27L295.5,249.91L296,249.58L296.5,249.26L297,248.98L297.5,248.72L298,248.49L298.5,248.31L299,248.15L299.5,248.04L300,247.97L300.5,247.94L301,247.95L301.5,248.01L302,248.1L302.5,248.24L303,248.41L303.5,248.61L304,248.85L304.5,249.12L305,249.42L305.5,249.74L306,250.08L306.5,250.43L307,250.8L307.5,251.17L308,251.54L308.5,251.91L309,252.27L309.5,252.62L310,252.96L310.5,253.28L311,253.59L311.5,253.87L312,254.13L312.5,254.36L313,254.57L313.5,254.76L314,254.92L314.5,255.06L315,255.17L315.5,255.27L316,255.35L316.5,255.41L317,255.47L317.5,255.52L318,255.57L318.5,255.61L319,255.67L319.5,255.73L320,255.8L320.5,255.88L321,255.99L321.5,256.11L322,256.26L322.5,256.42L323,256.62L323.5,256.84L324,257.08L324.5,257.35L325,257.64L325.5,257.95L326,258.28L326.5,258.63L327,259L327.5,259.37L328,259.76L328.5,260.15L329,260.55L329.5,260.94L330,261.34L330.5,261.72L331,262.1L331.5,262.47L332,262.83L332.5,263.17L333,263.5L333.5,263.81L334,264.11L334.5,264.38L335,264.64L335.5,264.87L336,265.09L336.5,265.29L337,265.48L337.5,265.64L338,265.79L338.5,265.93L339,266.05L339.5,266.15L340,266.24L340.5,266.33L341,266.4L341.5,266.46L342,266.51L342.5,266.56L343,266.6L343.5,266.63L344,266.66L344.5,266.69L345,266.71L345.5,266.73L346,266.74L346.5,266.75L347,266.76L347.5,266.77L348,266.77L348.5,266.78L349,266.78L349.5,266.79L350,266.79L350.5,266.79L351,266.79L351.5,266.8L352,266.8L352.5,266.8L353,266.8L353.5,266.8L354,266.8L354.5,266.8L355,266.8L355.5,266.8L356,266.8L356.5,266.8L357,266.8L357.5,266.8L358,266.8L358.5,266.8L359,266.8L359.5,266.8L360,266.8L360.5,266.8L361,266.8L361.5,266.8L362,266.8L362.5,266.8L363,266.8L363.5,266.8L364,266.8L364.5,266.8L365,266.8L365,266.8Z" fill="#5fb45f"/>
<path d="M211.5,266.8L211.5,266.8L212,266.8L212.5,266.8L213,266.8L213.5,266.8L214,266.8L214.5,266.8L215,266.8L215.5,266.8L216,266.8L216.5,266.8L217,266.8L217.5,266.8L218,266.8L218.5,266.8L219,266.8L219.5,266.8L220,266.8L220.5,266.8L221,266.8L221.5,266.8L222,266.8L222.5,266.8L223,266.8L223.5,266.8L224,266.8L224.5,266.8L225,266.8L225.5,266.8L226,266.8L226.5,266.8L227,266.8L227.5,266.8L228,266.8L228.5,266.8L229,266.8L229.5,266.8L230,266.8L230.5,266.8L231,266.8L231.5,266.8L232,266.8L232.5,266.8L233,266.8L233.5,266.8L234,266.8L234.5,266.8L235,266.8L235.5,266.8L236,266.8L236.5,266.8L237,266.8L237.5,266.8L238,266.8L238.5,266.8L239,266.79L239.5,266.79L240,266.79L240.5,266.79L241,266.79L241.5,266.79L242,266.78L242.5,266.78L243,266.78L243.5,266.77L244,266.77L244.5,266.76L245,266.76L245.5,266.75L246,266.74L246.5,266.73L247,266.71L247.5,266.7L248,266.68L248.5,266.66L249,266.64L249.5,266.62L250,266.59L250.5,266.56L251,266.53L251.5,266.49L252,266.44L252.5,266.39L253,266.34L253.5,266.28L254,266.21L254.5,266.14L255,266.06L255.5,265.97L256,265.88L256.5,265.77L257,265.66L257.5,265.54L258,265.41L258.5,265.27L259,265.12L259.5,264.95L260,264.78L260.5,264.6L261,264.41L261.5,264.21L262,264L262.5,263.78L263,263.56L263.5,263.32L264,263.08L264.5,262.83L265,262.58L265.5,262.32L266,262.05L266.5,261.79L267,261.52L267.5,261.25L268,260.98L268.5,260.72L269,260.46L269.5,260.2L270,259.96L270.5,259.71L271,259.48L271.5,259.26L272,259.05L272.5,258.85L273,258.66L273.5,258.49L274,258.33L274.5,258.18L275,258.05L275.5,257.93L276,257.83L276.5,257.73L277,257.65L277.5,257.58L278,257.52L278.5,257.47L279,257.42L279.5,257.38L280,257.34L280.5,257.3L281,257.26L281.5,257.22L282,257.17L282.5,257.11L283,257.04L283.5,256.96L284,256.86L284.5,256.75L285,256.62L285.5,256.47L286,256.29L286.5,256.1L287,255.89L287.5,255.65L288,255.39L288.5,255.1L289,254.8L289.5,254.48L290,254.14L290.5,253.78L291,253.4L291.5,253.02L292,252.63L292.5,252.23L293,251.83L293.5,251.43L294,251.03L294.5,252.33L295,253.89L295.5,255.32L296,256.62L296.5,257.81L297,258.89L297.5,259.86L298,260.73L298.5,261.51L299,262.21L299.5,262.82L300,263.37L300.5,263.85L301,264.27L301.5,264.64L302,264.96L302.5,265.24L303,265.48L303.5,265.69L304,265.87L304.5,266.02L305,266.15L305.5,266.26L306,266.35L306.5,266.43L307,266.5L307.5,266.55L308,266.6L308.5,266.63L309,266.67L309.5,266.69L310,266.71L310.5,266.73L311,266.74L311.5,266.75L312,266.76L312.5,266.77L313,266.78L313.5,266.78L314,266.79L314.5,266.79L315,266.79L315.5,266.79L316,266.79L316.5,266.8L317,266.8L317.5,266.8L318,266.8L318.5,266.8L319,266.8L319.5,266.8L320,266.8L320.5,266.8L321,266.8L321.5,266.8L322,266.8L322.5,266.8L323,266.8L323.5,266.8L324,266.8L324.5,266.8L325,266.8L325.5,266.8L326,266.8L326.5,266.8L327,266.8L327.5,266.8L328,266.8L328.5,266.8L329,266.8L329.5,266.8L330,266.8L330.5,266.8L331,266.8L331.5,266.8L332,266.8L332.5,266.8L333,266.8L333.5,266.8L334,266.8L334.5,266.8L335,266.8L335.5,266.8L336,266.8L336.5,266.8L337,266.8L337.5,266.8L338,266.8L338.5,266.8L339,266.8L339.5,266.8L340,266.8L340.5,266.8L341,266.8L341.5,266.8L342,266.8L342.5,266.8L343,266.8L343.5,266.8L344,266.8L344.5,266.8L345,266.8L345.5,266.8L346,266.8L346.5,266.8L347,266.8L347.5,266.8L348,266.8L348.5,266.8L349,266.8L349.5,266.8L350,266.8L350.5,266.8L351,266.8L351.5,266.8L352,266.8L352.5,266.8L353,266.8L353.5,266.8L354,266.8L354.5,266.8L355,266.8L355.5,266.8L356,266.8L356.5,266.8L357,266.8L357.5,266.8L358,266.8L358.5,266.8L359,266.8L359.5,266.8L360,266.8L360.5,266.8L361,266.8L361.5,266.8L362,266.8L362.5,266.8L363,266.8L363.5,266.8L364,266.8L364.5,266.8L365,266.8L365,266.8Z" fill="#1e6e40"/>
<path d="M211.5,266.8L212,266.8L212.5,266.8L213,266.8L213.5,266.8L214,266.8L214.5,266.8L215,266.8L215.5,266.8L216,266.8L216.5,266.8L217,266.8L217.5,266.8L218,266.8L218.5,266.8L219,266.8L219.5,266.8L220,266.8L220.5,266.8L221,266.8L221.5,266.8L222,266.8L222.5,266.8L223,266.8L223.5,266.8L224,266.8L224.5,266.8L225,266.8L225.5,266.8L226,266.8L226.5,266.8L227,266.8L227.5,266.8L228,266.8L228.5,266.8L229,266.8L229.5,266.8L230,266.8L230.5,266.8L231,266.8L231.5,266.8L232,266.8L232.5,266.8L233,266.8L233.5,266.8L234,266.8L234.5,266.8L235,266.8L235.5,266.8L236,266.8L236.5,266.8L237,266.8L237.5,266.8L238,266.8L238.5,266.8L239,266.79L239.5,266.79L240,266.79L240.5,266.79L241,266.79L241.5,266.79L242,266.78L242.5,266.78L243,266.78L243.5,266.77L244,266.77L244.5,266.76L245,266.76L245.5,266.75L246,266.74L246.5,266.73L247,266.71L247.5,266.7L248,266.68L248.5,266.66L249,266.64L249.5,266.62L250,266.59L250.5,266.56L251,266.53L251.5,266.49L252,266.44L252.5,266.39L253,266.34L253.5,266.28L254,266.21L254.5,266.14L255,266.06L255.5,265.97L256,265.88L256.5,265.77L257,265.66L257.5,265.54L258,265.41L258.5,265.27L259,265.12L259.5,264.95L260,264.78L260.5,264.6L261,264.41L261.5,264.21L262,264L262.5,263.78L263,263.56L263.5,263.32L264,263.08L264.5,262.83L265,262.58L265.5,262.32L266,262.05L266.5,261.79L267,261.52L267.5,261.25L268,260.98L268.5,260.72L269,260.46L269.5,260.2L270,259.96L270.5,259.71L271,259.48L271.5,259.26L272,259.05L272.5,258.85L273,258.66L273.5,258.49L274,258.33L274.5,258.18L275,258.05L275.5,257.93L276,257.83L276.5,257.73L277,257.65L277.5,257.58L278,257.52L278.5,257.47L279,257.42L279.5,257.38L280,257.34L280.5,257.3L281,257.26L281.5,257.22L282,257.17L282.5,257.11L283,257.04L283.5,256.96L284,256.86L284.5,256.75L285,256.62L285.5,256.47L286,256.29L286.5,256.1L287,255.89L287.5,255.65L288,255.39L288.5,255.1L289,254.8L289.5,254.48L290,254.14L290.5,253.78L291,253.4L291.5,253.02L292,252.63L292.5,252.23L293,251.83L293.5,251.43L294,251.03L294.5,250.65L295,250.27L295.5,249.91L296,249.58L296.5,249.26L297,248.98L297.5,248.72L298,248.49L298.5,248.31L299,248.15L299.5,248.04L300,247.97L300.5,247.94L301,247.95L301.5,248.01L302,248.1L302.5,248.24L303,248.41L303.5,248.61L304,248.85L304.5,249.12L305,249.42L305.5,249.74L306,250.08L306.5,250.43L307,250.8L307.5,251.17L308,251.54L308.5,251.91L309,252.27L309.5,252.62L310,252.96L310.5,253.28L311,253.59L311.5,253.87L312,254.13L312.5,254.36L313,254.57L313.5,254.76L314,254.92L314.5,255.06L315,255.17L315.5,255.27L316,255.35L316.5,255.41L317,255.47L317.5,255.52L318,255.57L318.5,255.61L319,255.67L319.5,255.73L320,255.8L320.5,255.88L321,255.99L321.5,256.11L322,256.26L322.5,256.42L323,256.62L323.5,256.84L324,257.08L324.5,257.35L325,257.64L325.5,257.95L326,258.28L326.5,258.63L327,259L327.5,259.37L328,259.76L328.5,260.15L329,260.55L329.5,260.94L330,261.34L330.5,261.72L331,262.1L331.5,262.47L332,262.83L332.5,263.17L333,263.5L333.5,263.81L334,264.11L334.5,264.38L335,264.64L335.5,264.87L336,265.09L336.5,265.29L337,265.48L337.5,265.64L338,265.79L338.5,265.93L339,266.05L339.5,266.15L340,266.24L340.5,266.33L341,266.4L341.5,266.46L342,266.51L342.5,266.56L343,266.6L343.5,266.63L344,266.66L344.5,266.69L345,266.71L345.5,266.73L346,266.74L346.5,266.75L347,266.76L347.5,266.77L348,266.77L348.5,266.78L349,266.78L349.5,266.79L350,266.79L350.5,266.79L351,266.79L351.5,266.8L352,266.8L352.5,266.8L353,266.8L353.5,266.8L354,266.8L354.5,266.8L355,266.8L355.5,266.8L356,266.8L356.5,266.8L357,266.8L357.5,266.8L358,266.8L358.5,266.8L359,266.8L359.5,266.8L360,266.8L360.5,266.8L361,266.8L361.5,266.8L362,266.8L362.5,266.8L363,266.8L363.5,266.8L364,266.8L364.5,266.8L365,266.8" fill="none" stroke="#1a8c1a" stroke-width="1"/>
<path d="M211.5,266.8L211.5,266.8L212,266.8L212.5,266.8L213,266.8L213.5,266.8L214,266.8L214.5,266.8L215,266.8L215.5,266.8L216,266.8L216.5,266.8L217,266.8L217.5,266.8L218,266.8L218.5,266.8L219,266.8L219.5,266.8L220,266.8L220.5,266.8L221,266.8L221.5,266.8L222,266.8L222.5,266.8L223,266.8L223.5,266.8L224,266.8L224.5,266.8L225,266.8L225.5,266.8L226,266.8L226.5,266.8L227,266.8L227.5,266.8L228,266.8L228.5,266.8L229,266.8L229.5,266.8L230,266.8L230.5,266.8L231,266.8L231.5,266.8L232,266.8L232.5,266.8L233,266.8L233.5,266.8L234,266.8L234.5,266.8L235,266.8L235.5,266.8L236,266.8L236.5,266.8L237,266.8L237.5,266.8L238,266.8L238.5,266.8L239,266.8L239.5,266.8L240,266.8L240.5,266.8L241,266.8L241.5,266.8L242,266.8L242.5,266.8L243,266.8L243.5,266.8L244,266.8L244.5,266.8L245,266.8L245.5,266.8L246,266.8L246.5,266.8L247,266.8L247.5,266.8L248,266.8L248.5,266.8L249,266.8L249.5,266.8L250,266.8L250.5,266.8L251,266.8L251.5,266.8L252,266.8L252.5,266.8L253,266.8L253.5,266.8L254,266.8L254.5,266.8L255,266.8L255.5,266.8L256,266.8L256.5,266.8L257,266.8L257.5,266.8L258,266.8L258.5,266.8L259,266.8L259.5,266.8L260,266.8L260.5,266.8L261,266.8L261.5,266.8L262,266.8L262.5,266.8L263,266.8L263.5,266.8L264,266.8L264.5,266.8L265,266.8L265.5,266.8L266,266.8L266.5,266.8L267,266.8L267.5,266.8L268,266.8L268.5,266.8L269,266.8L269.5,266.8L270,266.8L270.5,266.8L271,266.8L271.5,266.8L272,266.8L272.5,266.8L273,266.8L273.5,266.8L274,266.8L274.5,266.8L275,266.8L275.5,266.8L276,266.8L276.5,266.8L277,266.8L277.5,266.8L278,266.8L278.5,266.8L279,266.8L279.5,266.8L280,266.8L280.5,266.8L281,266.8L281.5,266.8L282,266.8L282.5,266.8L283,266.8L283.5,266.8L284,266.8L284.5,266.8L285,266.8L285.5,266.8L286,266.8L286.5,266.8L287,266.8L287.5,266.8L288,266.8L288.5,266.8L289,266.8L289.5,266.8L290,266.8L290.5,266.79L291,266.79L291.5,266.79L292,266.79L292.5,266.78L293,266.77L293.5,266.77L294,266.76L294.5,266.74L295,266.73L295.5,266.7L296,266.68L296.5,266.65L297,266.61L297.5,266.56L298,266.5L298.5,266.44L299,266.36L299.5,266.27L300,266.16L300.5,266.04L301,265.91L301.5,265.76L302,265.59L302.5,265.41L303,265.21L303.5,265.01L304,264.79L304.5,264.56L305,264.32L305.5,264.08L306,263.85L306.5,263.61L307,263.39L307.5,263.18L308,262.99L308.5,262.82L309,262.67L309.5,262.56L310,262.47L310.5,262.42L311,262.4L311.5,262.42L312,262.47L312.5,262.55L313,262.67L313.5,262.82L314,262.99L314.5,263.18L315,263.39L315.5,263.61L316,263.84L316.5,264.08L317,264.32L317.5,264.55L318,264.77L318.5,264.99L319,265.19L319.5,265.38L320,265.55L320.5,265.7L321,265.83L321.5,265.94L322,266.03L322.5,266.1L323,266.14L323.5,266.16L324,266.15L324.5,266.12L325,266.06L325.5,265.97L326,265.86L326.5,265.71L327,265.54L327.5,265.33L328,265.1L328.5,264.84L329,264.55L329.5,264.24L330,263.9L330.5,263.55L331,263.19L331.5,262.83L332,262.46L332.5,262.11L333,261.78L333.5,261.46L334,261.19L334.5,260.95L335,260.76L335.5,260.62L336,260.53L336.5,260.5L337,260.53L337.5,260.62L338,260.76L338.5,260.95L339,261.19L339.5,261.47L340,261.78L340.5,262.11L341,262.47L341.5,262.83L342,263.2L342.5,263.56L343,263.92L343.5,264.25L344,264.57L344.5,264.87L345,265.14L345.5,265.39L346,265.61L346.5,265.81L347,265.98L347.5,266.13L348,266.25L348.5,266.36L349,266.45L349.5,266.52L350,266.58L350.5,266.63L351,266.67L351.5,266.7L352,266.73L352.5,266.74L353,266.76L353.5,266.77L354,266.78L354.5,266.78L355,266.79L355.5,266.79L356,266.79L356.5,266.8L357,266.8L357.5,266.8L358,266.8L358.5,266.8L359,266.8L359.5,266.8L360,266.8L360.5,266.8L361,266.8L361.5,266.8L362,266.8L362.5,266.8L363,266.8L363.5,266.8L364,266.8L364.5,266.8L365,266.8L365,266.8Z" fill="#f39a35"/>
<path d="M211.5,266.8L211.5,266.8L212,266.8L212.5,266.8L213,266.8L213.5,266.8L214,266.8L214.5,266.8L215,266.8L215.5,266.8L216,266.8L216.5,266.8L217,266.8L217.5,266.8L218,266.8L218.5,266.8L219,266.8L219.5,266.8L220,266.8L220.5,266.8L221,266.8L221.5,266.8L222,266.8L222.5,266.8L223,266.8L223.5,266.8L224,266.8L224.5,266.8L225,266.8L225.5,266.8L226,266.8L226.5,266.8L227,266.8L227.5,266.8L228,266.8L228.5,266.8L229,266.8L229.5,266.8L230,266.8L230.5,266.8L231,266.8L231.5,266.8L232,266.8L232.5,266.8L233,266.8L233.5,266.8L234,266.8L234.5,266.8L235,266.8L235.5,266.8L236,266.8L236.5,266.8L237,266.8L237.5,266.8L238,266.8L238.5,266.8L239,266.8L239.5,266.8L240,266.8L240.5,266.8L241,266.8L241.5,266.8L242,266.8L242.5,266.8L243,266.8L243.5,266.8L244,266.8L244.5,266.8L245,266.8L245.5,266.8L246,266.8L246.5,266.8L247,266.8L247.5,266.8L248,266.8L248.5,266.8L249,266.8L249.5,266.8L250,266.8L250.5,266.8L251,266.8L251.5,266.8L252,266.8L252.5,266.8L253,266.8L253.5,266.8L254,266.8L254.5,266.8L255,266.8L255.5,266.8L256,266.8L256.5,266.8L257,266.8L257.5,266.8L258,266.8L258.5,266.8L259,266.8L259.5,266.8L260,266.8L260.5,266.8L261,266.8L261.5,266.8L262,266.8L262.5,266.8L263,266.8L263.5,266.8L264,266.8L264.5,266.8L265,266.8L265.5,266.8L266,266.8L266.5,266.8L267,266.8L267.5,266.8L268,266.8L268.5,266.8L269,266.8L269.5,266.8L270,266.8L270.5,266.8L271,266.8L271.5,266.8L272,266.8L272.5,266.8L273,266.8L273.5,266.8L274,266.8L274.5,266.8L275,266.8L275.5,266.8L276,266.8L276.5,266.8L277,266.8L277.5,266.8L278,266.8L278.5,266.8L279,266.8L279.5,266.8L280,266.8L280.5,266.8L281,266.8L281.5,266.8L282,266.8L282.5,266.8L283,266.8L283.5,266.8L284,266.8L284.5,266.8L285,266.8L285.5,266.8L286,266.8L286.5,266.8L287,266.8L287.5,266.8L288,266.8L288.5,266.8L289,266.8L289.5,266.8L290,266.8L290.5,266.79L291,266.79L291.5,266.79L292,266.79L292.5,266.78L293,266.77L293.5,266.77L294,266.76L294.5,266.74L295,266.73L295.5,266.7L296,266.68L296.5,266.65L297,266.61L297.5,266.56L298,266.5L298.5,266.44L299,266.36L299.5,266.27L300,266.16L300.5,266.04L301,265.91L301.5,265.76L302,265.59L302.5,265.41L303,265.21L303.5,265.01L304,264.79L304.5,264.56L305,264.32L305.5,264.08L306,263.85L306.5,263.61L307,263.39L307.5,263.18L308,262.99L308.5,262.82L309,262.67L309.5,262.56L310,262.47L310.5,262.42L311,262.4L311.5,262.42L312,262.47L312.5,262.55L313,262.67L313.5,262.82L314,262.99L314.5,263.18L315,263.39L315.5,263.61L316,263.84L316.5,264.08L317,264.32L317.5,264.55L318,264.77L318.5,264.99L319,265.19L319.5,265.38L320,265.55L320.5,265.7L321,265.83L321.5,265.94L322,266.03L322.5,266.1L323,266.14L323.5,266.16L324,266.15L324.5,266.12L325,266.06L325.5,265.97L326,265.86L326.5,265.71L327,265.54L327.5,265.33L328,265.1L328.5,264.84L329,264.55L329.5,264.24L330,263.9L330.5,263.55L331,263.19L331.5,262.83L332,262.83L332.5,263.17L333,263.5L333.5,263.81L334,264.11L334.5,264.38L335,264.64L335.5,264.87L336,265.09L336.5,265.29L337,265.48L337.5,265.64L338,265.79L338.5,265.93L339,266.05L339.5,266.15L340,266.24L340.5,266.33L341,266.4L341.5,266.46L342,266.51L342.5,266.56L343,266.6L343.5,266.63L344,266.66L344.5,266.69L345,266.71L345.5,266.73L346,266.74L346.5,266.75L347,266.76L347.5,266.77L348,266.77L348.5,266.78L349,266.78L349.5,266.79L350,266.79L350.5,266.79L351,266.79L351.5,266.8L352,266.8L352.5,266.8L353,266.8L353.5,266.8L354,266.8L354.5,266.8L355,266.8L355.5,266.8L356,266.8L356.5,266.8L357,266.8L357.5,266.8L358,266.8L358.5,266.8L359,266.8L359.5,266.8L360,266.8L360.5,266.8L361,266.8L361.5,266.8L362,266.8L362.5,266.8L363,266.8L363.5,266.8L364,266.8L364.5,266.8L365,266.8L365,266.8Z" fill="#d9861e"/>
<path d="M211.5,266.8L212,266.8L212.5,266.8L213,266.8L213.5,266.8L214,266.8L214.5,266.8L215,266.8L215.5,266.8L216,266.8L216.5,266.8L217,266.8L217.5,266.8L218,266.8L218.5,266.8L219,266.8L219.5,266.8L220,266.8L220.5,266.8L221,266.8L221.5,266.8L222,266.8L222.5,266.8L223,266.8L223.5,266.8L224,266.8L224.5,266.8L225,266.8L225.5,266.8L226,266.8L226.5,266.8L227,266.8L227.5,266.8L228,266.8L228.5,266.8L229,266.8L229.5,266.8L230,266.8L230.5,266.8L231,266.8L231.5,266.8L232,266.8L232.5,266.8L233,266.8L233.5,266.8L234,266.8L234.5,266.8L235,266.8L235.5,266.8L236,266.8L236.5,266.8L237,266.8L237.5,266.8L238,266.8L238.5,266.8L239,266.8L239.5,266.8L240,266.8L240.5,266.8L241,266.8L241.5,266.8L242,266.8L242.5,266.8L243,266.8L243.5,266.8L244,266.8L244.5,266.8L245,266.8L245.5,266.8L246,266.8L246.5,266.8L247,266.8L247.5,266.8L248,266.8L248.5,266.8L249,266.8L249.5,266.8L250,266.8L250.5,266.8L251,266.8L251.5,266.8L252,266.8L252.5,266.8L253,266.8L253.5,266.8L254,266.8L254.5,266.8L255,266.8L255.5,266.8L256,266.8L256.5,266.8L257,266.8L257.5,266.8L258,266.8L258.5,266.8L259,266.8L259.5,266.8L260,266.8L260.5,266.8L261,266.8L261.5,266.8L262,266.8L262.5,266.8L263,266.8L263.5,266.8L264,266.8L264.5,266.8L265,266.8L265.5,266.8L266,266.8L266.5,266.8L267,266.8L267.5,266.8L268,266.8L268.5,266.8L269,266.8L269.5,266.8L270,266.8L270.5,266.8L271,266.8L271.5,266.8L272,266.8L272.5,266.8L273,266.8L273.5,266.8L274,266.8L274.5,266.8L275,266.8L275.5,266.8L276,266.8L276.5,266.8L277,266.8L277.5,266.8L278,266.8L278.5,266.8L279,266.8L279.5,266.8L280,266.8L280.5,266.8L281,266.8L281.5,266.8L282,266.8L282.5,266.8L283,266.8L283.5,266.8L284,266.8L284.5,266.8L285,266.8L285.5,266.8L286,266.8L286.5,266.8L287,266.8L287.5,266.8L288,266.8L288.5,266.8L289,266.8L289.5,266.8L290,266.8L290.5,266.79L291,266.79L291.5,266.79L292,266.79L292.5,266.78L293,266.77L293.5,266.77L294,266.76L294.5,266.74L295,266.73L295.5,266.7L296,266.68L296.5,266.65L297,266.61L297.5,266.56L298,266.5L298.5,266.44L299,266.36L299.5,266.27L300,266.16L300.5,266.04L301,265.91L301.5,265.76L302,265.59L302.5,265.41L303,265.21L303.5,265.01L304,264.79L304.5,264.56L305,264.32L305.5,264.08L306,263.85L306.5,263.61L307,263.39L307.5,263.18L308,262.99L308.5,262.82L309,262.67L309.5,262.56L310,262.47L310.5,262.42L311,262.4L311.5,262.42L312,262.47L312.5,262.55L313,262.67L313.5,262.82L314,262.99L314.5,263.18L315,263.39L315.5,263.61L316,263.84L316.5,264.08L317,264.32L317.5,264.55L318,264.77L318.5,264.99L319,265.19L319.5,265.38L320,265.55L320.5,265.7L321,265.83L321.5,265.94L322,266.03L322.5,266.1L323,266.14L323.5,266.16L324,266.15L324.5,266.12L325,266.06L325.5,265.97L326,265.86L326.5,265.71L327,265.54L327.5,265.33L328,265.1L328.5,264.84L329,264.55L329.5,264.24L330,263.9L330.5,263.55L331,263.19L331.5,262.83L332,262.46L332.5,262.11L333,261.78L333.5,261.46L334,261.19L334.5,260.95L335,260.76L335.5,260.62L336,260.53L336.5,260.5L337,260.53L337.5,260.62L338,260.76L338.5,260.95L339,261.19L339.5,261.47L340,261.78L340.5,262.11L341,262.47L341.5,262.83L342,263.2L342.5,263.56L343,263.92L343.5,264.25L344,264.57L344.5,264.87L345,265.14L345.5,265.39L346,265.61L346.5,265.81L347,265.98L347.5,266.13L348,266.25L348.5,266.36L349,266.45L349.5,266.52L350,266.58L350.5,266.63L351,266.67L351.5,266.7L352,266.73L352.5,266.74L353,266.76L353.5,266.77L354,266.78L354.5,266.78L355,266.79L355.5,266.79L356,266.79L356.5,266.8L357,266.8L357.5,266.8L358,266.8L358.5,266.8L359,266.8L359.5,266.8L360,266.8L360.5,266.8L361,266.8L361.5,266.8L362,266.8L362.5,266.8L363,266.8L363.5,266.8L364,266.8L364.5,266.8L365,266.8" fill="none" stroke="#f0a040" stroke-width="0.9"/>
<path d="M210.8,266.9v-2.3M241.86,266.9v-2.3M272.92,266.9v-2.3M303.98,266.9v-2.3M335.04,266.9v-2.3M366.1,266.9v-2.3M226.33,266.9v-1.3M257.39,266.9v-1.3M288.45,266.9v-1.3M319.51,266.9v-1.3M350.57,266.9v-1.3" stroke="#2b2b2b" stroke-width="0.9" fill="none" stroke-opacity="0.55"/>
<text transform="translate(210.8,276) scale(1,1.12)" text-anchor="middle" class="tk">22</text>
<text transform="translate(241.86,276) scale(1,1.12)" text-anchor="middle" class="tk">20</text>
<text transform="translate(272.92,276) scale(1,1.12)" text-anchor="middle" class="tk">18</text>
<text transform="translate(303.98,276) scale(1,1.12)" text-anchor="middle" class="tk">16</text>
<text transform="translate(335.04,276) scale(1,1.12)" text-anchor="middle" class="tk">14</text>
<text transform="translate(366.1,276) scale(1,1.12)" text-anchor="middle" class="tk">12</text>
<line x1="210.8" x2="366.1" y1="267.15" y2="267.15" stroke="#e0821e" stroke-width="1.6"/>
<path d="M211.5,266.49L212,266.49L212.5,266.49L213,266.48L213.5,266.48L214,266.47L214.5,266.47L215,266.46L215.5,266.45L216,266.44L216.5,266.42L217,266.41L217.5,266.39L218,266.36L218.5,266.34L219,266.3L219.5,266.26L220,266.22L220.5,266.16L221,266.1L221.5,266.03L222,265.94L222.5,265.84L223,265.73L223.5,265.6L224,265.45L224.5,265.27L225,265.07L225.5,264.85L226,264.59L226.5,264.3L227,263.98L227.5,263.61L228,263.2L228.5,262.74L229,262.23L229.5,261.67L230,261.04L230.5,260.36L231,259.6L231.5,258.78L232,257.88L232.5,256.91L233,255.85L233.5,254.71L234,253.49L234.5,252.18L235,250.78L235.5,249.29L236,247.72L236.5,246.06L237,244.32L237.5,242.5L238,240.6L238.5,238.63L239,236.59L239.5,234.49L240,232.35L240.5,230.16L241,227.94L241.5,225.69L242,223.44L242.5,221.19L243,218.95L243.5,216.74L244,214.56L244.5,212.44L245,210.39L245.5,208.42L246,206.54L246.5,204.77L247,203.11L247.5,201.58L248,200.18L248.5,198.94L249,197.85L249.5,196.91L250,196.14L250.5,195.55L251,195.12L251.5,194.86L252,194.76L252.5,194.84L253,195.07L253.5,195.45L254,195.98L254.5,196.64L255,197.42L255.5,198.3L256,199.27L256.5,200.31L257,201.4L257.5,202.51L258,203.64L258.5,204.74L259,205.81L259.5,206.82L260,207.73L260.5,208.54L261,209.22L261.5,209.75L262,210.12L262.5,210.29L263,210.28L263.5,210.05L264,209.61L264.5,208.96L265,208.08L265.5,206.98L266,205.67L266.5,204.16L267,202.45L267.5,200.56L268,198.51L268.5,196.32L269,194L269.5,191.6L270,189.12L270.5,186.6L271,184.07L271.5,181.55L272,179.09L272.5,176.69L273,174.41L273.5,172.26L274,170.27L274.5,168.47L275,166.89L275.5,165.53L276,164.44L276.5,163.61L277,163.06L277.5,162.8L278,162.84L278.5,163.17L279,163.81L279.5,164.73L280,165.94L280.5,167.42L281,169.17L281.5,171.15L282,173.35L282.5,175.75L283,178.33L283.5,181.05L284,183.91L284.5,186.86L285,189.88L285.5,192.94L286,196.03L286.5,199.1L287,202.15L287.5,205.15L288,208.07L288.5,210.89L289,213.62L289.5,216.22L290,218.68L290.5,221.01L291,223.18L291.5,225.21L292,227.08L292.5,228.81L293,230.38L293.5,231.82L294,233.12L294.5,234.3L295,235.36L295.5,236.31L296,237.17L296.5,237.94L297,238.64L297.5,239.28L298,239.85L298.5,240.38L299,240.87L299.5,241.32L300,241.74L300.5,242.13L301,242.5L301.5,242.84L302,243.17L302.5,243.48L303,243.78L303.5,244.06L304,244.33L304.5,244.59L305,244.85L305.5,245.09L306,245.33L306.5,245.57L307,245.81L307.5,246.05L308,246.29L308.5,246.54L309,246.8L309.5,247.06L310,247.34L310.5,247.62L311,247.91L311.5,248.2L312,248.51L312.5,248.81L313,249.12L313.5,249.43L314,249.73L314.5,250.02L315,250.31L315.5,250.58L316,250.84L316.5,251.08L317,251.32L317.5,251.53L318,251.73L318.5,251.92L319,252.11L319.5,252.28L320,252.45L320.5,252.62L321,252.79L321.5,252.97L322,253.15L322.5,253.34L323,253.55L323.5,253.76L324,253.99L324.5,254.22L325,254.47L325.5,254.71L326,254.96L326.5,255.2L327,255.44L327.5,255.66L328,255.87L328.5,256.05L329,256.22L329.5,256.35L330,256.46L330.5,256.53L331,256.58L331.5,256.61L332,256.61L332.5,256.6L333,256.59L333.5,256.57L334,256.55L334.5,256.55L335,256.57L335.5,256.62L336,256.71L336.5,256.83L337,257L337.5,257.21L338,257.47L338.5,257.77L339,258.12L339.5,258.51L340,258.93L340.5,259.37L341,259.84L341.5,260.32L342,260.81L342.5,261.31L343,261.79L343.5,262.26L344,262.72L344.5,263.15L345,263.56L345.5,263.94L346,264.29L346.5,264.61L347,264.9L347.5,265.15L348,265.38L348.5,265.57L349,265.74L349.5,265.89L350,266.01L350.5,266.11L351,266.19L351.5,266.26L352,266.32L352.5,266.36L353,266.39L353.5,266.42L354,266.44L354.5,266.46L355,266.47L355.5,266.48L356,266.48L356.5,266.49L357,266.49L357.5,266.49L358,266.5L358.5,266.5L359,266.5L359.5,266.5L360,266.5L360.5,266.5L361,266.5L361.5,266.5L362,266.5L362.5,266.5L363,266.5L363.5,266.5L364,266.5L364.5,266.5L365,266.5" fill="none" stroke="#1a1a1a" stroke-width="1.1"/>
<text transform="translate(204.3,213.4) rotate(-90)" text-anchor="middle" class="lb" font-size="8.8">Intensity (a.u.)</text>
<text transform="translate(288.4,286.1) scale(1,1.12)" text-anchor="middle" class="lb" font-size="8.82">Binding energy (eV)</text>
<text transform="translate(216.6,165.7) scale(1,1.12)" class="lb" font-size="9.7">(d) RP-HfO<tspan font-size="7" dy="1.9">2</tspan></text>
<text transform="translate(217,180) scale(1,1.12)" class="lb" font-size="10">Hf 4f</text>
<line x1="322.1" x2="342.6" y1="165.4" y2="165.4" stroke="#3030ff" stroke-width="1.5"/>
<text transform="translate(344.7,168.4) scale(1,1.12)" class="lb" font-size="7.7">Hf<tspan font-size="6.4" dx="0.6" dy="-4.2">4+</tspan></text>
<line x1="322.1" x2="342.6" y1="180.55" y2="180.55" stroke="#3a9a3a" stroke-width="1.5"/>
<text transform="translate(344.7,183.55) scale(1,1.12)" class="lb" font-size="7.7">Hf<tspan font-size="6.4" dx="0.6" dy="-4.2">x+</tspan></text>
<line x1="322.1" x2="342.6" y1="195.7" y2="195.7" stroke="#f5a040" stroke-width="1.5"/>
<text transform="translate(344.7,198.7) scale(1,1.12)" class="lb" font-size="7.7">Hf<tspan font-size="6.4" dx="0.6" dy="-4.2">0</tspan></text>
<text transform="translate(329.6,223.3) scale(1,1.12)" text-anchor="middle" class="lb" font-size="8.45" style="fill:#20a020;stroke:#20a020">Hf-suboxide</text>
<text transform="translate(329.6,232.9) scale(1,1.12)" text-anchor="middle" class="lb" font-size="8.45" style="fill:#20a020;stroke:#20a020">(17.85%)</text>
<line x1="326" y1="236.1" x2="317.76" y2="249.75" stroke="#20a020" stroke-width="1.15"/>
<path d="M315.8,253L316.14,248.76L319.39,250.73Z" fill="#20a020"/>
<rect x="390.7" y="6.9" width="155.2" height="115.6" fill="none" stroke="#2b2b2b" stroke-width="1.3"/>
<path d="M391.4,122.4L391.4,122.4L391.9,122.4L392.4,122.4L392.9,122.4L393.4,122.4L393.9,122.4L394.4,122.4L394.9,122.4L395.4,122.4L395.9,122.4L396.4,122.4L396.9,122.4L397.4,122.4L397.9,122.4L398.4,122.4L398.9,122.4L399.4,122.4L399.9,122.4L400.4,122.4L400.9,122.4L401.4,122.4L401.9,122.4L402.4,122.4L402.9,122.4L403.4,122.4L403.9,122.4L404.4,122.4L404.9,122.4L405.4,122.4L405.9,122.39L406.4,122.39L406.9,122.39L407.4,122.39L407.9,122.39L408.4,122.39L408.9,122.39L409.4,122.39L409.9,122.39L410.4,122.39L410.9,122.38L411.4,122.38L411.9,122.38L412.4,122.38L412.9,122.38L413.4,122.37L413.9,122.37L414.4,122.37L414.9,122.36L415.4,122.36L415.9,122.36L416.4,122.35L416.9,122.35L417.4,122.34L417.9,122.34L418.4,122.33L418.9,122.32L419.4,122.32L419.9,122.31L420.4,122.3L420.9,122.29L421.4,122.28L421.9,122.27L422.4,122.26L422.9,122.24L423.4,122.23L423.9,122.21L424.4,122.2L424.9,122.18L425.4,122.16L425.9,122.14L426.4,122.12L426.9,122.1L427.4,122.07L427.9,122.05L428.4,122.02L428.9,121.99L429.4,121.95L429.9,121.92L430.4,121.88L430.9,121.84L431.4,121.8L431.9,121.76L432.4,121.71L432.9,121.66L433.4,121.6L433.9,121.55L434.4,121.48L434.9,121.42L435.4,121.35L435.9,121.27L436.4,121.19L436.9,121.11L437.4,121.01L437.9,120.91L438.4,120.81L438.9,120.69L439.4,120.57L439.9,120.44L440.4,120.29L440.9,120.14L441.4,119.97L441.9,119.79L442.4,119.6L442.9,119.38L443.4,119.15L443.9,118.9L444.4,118.62L444.9,118.33L445.4,118L445.9,117.65L446.4,117.26L446.9,116.85L447.4,116.39L447.9,115.9L448.4,115.36L448.9,114.77L449.4,114.14L449.9,113.46L450.4,112.72L450.9,111.92L451.4,111.06L451.9,110.13L452.4,109.14L452.9,108.08L453.4,106.94L453.9,105.73L454.4,104.45L454.9,103.09L455.4,101.65L455.9,100.13L456.4,98.53L456.9,96.86L457.4,95.12L457.9,93.3L458.4,91.42L458.9,89.47L459.4,87.47L459.9,85.42L460.4,83.32L460.9,81.18L461.4,79.02L461.9,76.84L462.4,74.65L462.9,72.47L463.4,70.3L463.9,68.16L464.4,66.05L464.9,64L465.4,62.01L465.9,60.1L466.4,58.28L466.9,56.55L467.4,54.95L467.9,53.47L468.4,52.12L468.9,50.93L469.4,49.88L469.9,49L470.4,48.29L470.9,47.75L471.4,47.39L471.9,47.22L472.4,47.23L472.9,47.42L473.4,47.79L473.9,48.34L474.4,49.07L474.9,49.96L475.4,51.02L475.9,52.23L476.4,53.59L476.9,55.08L477.4,56.69L477.9,58.42L478.4,60.25L478.9,62.17L479.4,64.17L479.9,66.23L480.4,68.33L480.9,70.48L481.4,72.65L481.9,74.84L482.4,77.03L482.9,79.2L483.4,81.36L483.9,83.5L484.4,85.59L484.9,87.64L485.4,89.64L485.9,91.58L486.4,93.46L486.9,95.27L487.4,97.01L487.9,98.67L488.4,100.26L488.9,101.77L489.4,103.2L489.9,104.56L490.4,105.84L490.9,107.04L491.4,108.17L491.9,109.23L492.4,110.21L492.9,111.13L493.4,111.99L493.9,112.78L494.4,113.52L494.9,114.2L495.4,114.83L495.9,115.41L496.4,115.94L496.9,116.43L497.4,116.88L497.9,117.3L498.4,117.68L498.9,118.03L499.4,118.35L499.9,118.65L500.4,118.92L500.9,119.17L501.4,119.4L501.9,119.61L502.4,119.81L502.9,119.99L503.4,120.15L503.9,120.31L504.4,120.45L504.9,120.58L505.4,120.7L505.9,120.82L506.4,120.92L506.9,121.02L507.4,121.11L507.9,121.2L508.4,121.28L508.9,121.35L509.4,121.42L509.9,121.49L510.4,121.55L510.9,121.61L511.4,121.66L511.9,121.71L512.4,121.76L512.9,121.81L513.4,121.85L513.9,121.89L514.4,121.92L514.9,121.96L515.4,121.99L515.9,122.02L516.4,122.05L516.9,122.07L517.4,122.1L517.9,122.12L518.4,122.14L518.9,122.16L519.4,122.18L519.9,122.2L520.4,122.21L520.9,122.23L521.4,122.24L521.9,122.26L522.4,122.27L522.9,122.28L523.4,122.29L523.9,122.3L524.4,122.31L524.9,122.32L525.4,122.32L525.9,122.33L526.4,122.34L526.9,122.34L527.4,122.35L527.9,122.35L528.4,122.36L528.9,122.36L529.4,122.36L529.9,122.37L530.4,122.37L530.9,122.37L531.4,122.38L531.9,122.38L532.4,122.38L532.9,122.38L533.4,122.38L533.9,122.39L534.4,122.39L534.9,122.39L535.4,122.39L535.9,122.39L536.4,122.39L536.9,122.39L537.4,122.39L537.9,122.39L538.4,122.39L538.9,122.4L539.4,122.4L539.9,122.4L540.4,122.4L540.9,122.4L541.4,122.4L541.9,122.4L542.4,122.4L542.9,122.4L543.4,122.4L543.9,122.4L544.4,122.4L544.9,122.4L544.9,122.4Z" fill="#bebebe"/>
<path d="M391.4,122.4L391.9,122.4L392.4,122.4L392.9,122.4L393.4,122.4L393.9,122.4L394.4,122.4L394.9,122.4L395.4,122.4L395.9,122.4L396.4,122.4L396.9,122.4L397.4,122.4L397.9,122.4L398.4,122.4L398.9,122.4L399.4,122.4L399.9,122.4L400.4,122.4L400.9,122.4L401.4,122.4L401.9,122.4L402.4,122.4L402.9,122.4L403.4,122.4L403.9,122.4L404.4,122.4L404.9,122.4L405.4,122.4L405.9,122.39L406.4,122.39L406.9,122.39L407.4,122.39L407.9,122.39L408.4,122.39L408.9,122.39L409.4,122.39L409.9,122.39L410.4,122.39L410.9,122.38L411.4,122.38L411.9,122.38L412.4,122.38L412.9,122.38L413.4,122.37L413.9,122.37L414.4,122.37L414.9,122.36L415.4,122.36L415.9,122.36L416.4,122.35L416.9,122.35L417.4,122.34L417.9,122.34L418.4,122.33L418.9,122.32L419.4,122.32L419.9,122.31L420.4,122.3L420.9,122.29L421.4,122.28L421.9,122.27L422.4,122.26L422.9,122.24L423.4,122.23L423.9,122.21L424.4,122.2L424.9,122.18L425.4,122.16L425.9,122.14L426.4,122.12L426.9,122.1L427.4,122.07L427.9,122.05L428.4,122.02L428.9,121.99L429.4,121.95L429.9,121.92L430.4,121.88L430.9,121.84L431.4,121.8L431.9,121.76L432.4,121.71L432.9,121.66L433.4,121.6L433.9,121.55L434.4,121.48L434.9,121.42L435.4,121.35L435.9,121.27L436.4,121.19L436.9,121.11L437.4,121.01L437.9,120.91L438.4,120.81L438.9,120.69L439.4,120.57L439.9,120.44L440.4,120.29L440.9,120.14L441.4,119.97L441.9,119.79L442.4,119.6L442.9,119.38L443.4,119.15L443.9,118.9L444.4,118.62L444.9,118.33L445.4,118L445.9,117.65L446.4,117.26L446.9,116.85L447.4,116.39L447.9,115.9L448.4,115.36L448.9,114.77L449.4,114.14L449.9,113.46L450.4,112.72L450.9,111.92L451.4,111.06L451.9,110.13L452.4,109.14L452.9,108.08L453.4,106.94L453.9,105.73L454.4,104.45L454.9,103.09L455.4,101.65L455.9,100.13L456.4,98.53L456.9,96.86L457.4,95.12L457.9,93.3L458.4,91.42L458.9,89.47L459.4,87.47L459.9,85.42L460.4,83.32L460.9,81.18L461.4,79.02L461.9,76.84L462.4,74.65L462.9,72.47L463.4,70.3L463.9,68.16L464.4,66.05L464.9,64L465.4,62.01L465.9,60.1L466.4,58.28L466.9,56.55L467.4,54.95L467.9,53.47L468.4,52.12L468.9,50.93L469.4,49.88L469.9,49L470.4,48.29L470.9,47.75L471.4,47.39L471.9,47.22L472.4,47.23L472.9,47.42L473.4,47.79L473.9,48.34L474.4,49.07L474.9,49.96L475.4,51.02L475.9,52.23L476.4,53.59L476.9,55.08L477.4,56.69L477.9,58.42L478.4,60.25L478.9,62.17L479.4,64.17L479.9,66.23L480.4,68.33L480.9,70.48L481.4,72.65L481.9,74.84L482.4,77.03L482.9,79.2L483.4,81.36L483.9,83.5L484.4,85.59L484.9,87.64L485.4,89.64L485.9,91.58L486.4,93.46L486.9,95.27L487.4,97.01L487.9,98.67L488.4,100.26L488.9,101.77L489.4,103.2L489.9,104.56L490.4,105.84L490.9,107.04L491.4,108.17L491.9,109.23L492.4,110.21L492.9,111.13L493.4,111.99L493.9,112.78L494.4,113.52L494.9,114.2L495.4,114.83L495.9,115.41L496.4,115.94L496.9,116.43L497.4,116.88L497.9,117.3L498.4,117.68L498.9,118.03L499.4,118.35L499.9,118.65L500.4,118.92L500.9,119.17L501.4,119.4L501.9,119.61L502.4,119.81L502.9,119.99L503.4,120.15L503.9,120.31L504.4,120.45L504.9,120.58L505.4,120.7L505.9,120.82L506.4,120.92L506.9,121.02L507.4,121.11L507.9,121.2L508.4,121.28L508.9,121.35L509.4,121.42L509.9,121.49L510.4,121.55L510.9,121.61L511.4,121.66L511.9,121.71L512.4,121.76L512.9,121.81L513.4,121.85L513.9,121.89L514.4,121.92L514.9,121.96L515.4,121.99L515.9,122.02L516.4,122.05L516.9,122.07L517.4,122.1L517.9,122.12L518.4,122.14L518.9,122.16L519.4,122.18L519.9,122.2L520.4,122.21L520.9,122.23L521.4,122.24L521.9,122.26L522.4,122.27L522.9,122.28L523.4,122.29L523.9,122.3L524.4,122.31L524.9,122.32L525.4,122.32L525.9,122.33L526.4,122.34L526.9,122.34L527.4,122.35L527.9,122.35L528.4,122.36L528.9,122.36L529.4,122.36L529.9,122.37L530.4,122.37L530.9,122.37L531.4,122.38L531.9,122.38L532.4,122.38L532.9,122.38L533.4,122.38L533.9,122.39L534.4,122.39L534.9,122.39L535.4,122.39L535.9,122.39L536.4,122.39L536.9,122.39L537.4,122.39L537.9,122.39L538.4,122.39L538.9,122.4L539.4,122.4L539.9,122.4L540.4,122.4L540.9,122.4L541.4,122.4L541.9,122.4L542.4,122.4L542.9,122.4L543.4,122.4L543.9,122.4L544.4,122.4L544.9,122.4" fill="none" stroke="#111" stroke-width="1.1"/>
<path d="M391.4,122.17L391.9,122.17L392.4,122.17L392.9,122.16L393.4,122.16L393.9,122.16L394.4,122.15L394.9,122.15L395.4,122.14L395.9,122.13L396.4,122.13L396.9,122.12L397.4,122.11L397.9,122.1L398.4,122.09L398.9,122.08L399.4,122.07L399.9,122.06L400.4,122.05L400.9,122.03L401.4,122.02L401.9,122L402.4,121.99L402.9,121.97L403.4,121.95L403.9,121.93L404.4,121.9L404.9,121.88L405.4,121.85L405.9,121.83L406.4,121.8L406.9,121.76L407.4,121.73L407.9,121.7L408.4,121.66L408.9,121.62L409.4,121.57L409.9,121.53L410.4,121.48L410.9,121.43L411.4,121.38L411.9,121.32L412.4,121.26L412.9,121.2L413.4,121.13L413.9,121.07L414.4,120.99L414.9,120.92L415.4,120.84L415.9,120.76L416.4,120.67L416.9,120.59L417.4,120.49L417.9,120.4L418.4,120.3L418.9,120.19L419.4,120.09L419.9,119.97L420.4,119.86L420.9,119.74L421.4,119.62L421.9,119.49L422.4,119.36L422.9,119.23L423.4,119.09L423.9,118.95L424.4,118.81L424.9,118.66L425.4,118.51L425.9,118.36L426.4,118.21L426.9,118.05L427.4,117.89L427.9,117.72L428.4,117.56L428.9,117.39L429.4,117.22L429.9,117.04L430.4,116.87L430.9,116.69L431.4,116.52L431.9,116.34L432.4,116.16L432.9,115.97L433.4,115.79L433.9,115.61L434.4,115.42L434.9,115.24L435.4,115.05L435.9,114.86L436.4,114.67L436.9,114.48L437.4,114.29L437.9,114.1L438.4,113.9L438.9,113.71L439.4,113.5L439.9,113.3L440.4,113.09L440.9,112.88L441.4,112.66L441.9,112.43L442.4,112.19L442.9,111.94L443.4,111.69L443.9,111.42L444.4,111.13L444.9,110.83L445.4,110.51L445.9,110.17L446.4,109.8L446.9,109.42L447.4,109.01L447.9,108.56L448.4,108.09L448.9,107.57L449.4,107.02L449.9,106.42L450.4,105.78L450.9,105.08L451.4,104.33L451.9,103.53L452.4,102.66L452.9,101.73L453.4,100.73L453.9,99.66L454.4,98.52L454.9,97.31L455.4,96.02L455.9,94.66L456.4,93.22L456.9,91.71L457.4,90.13L457.9,88.48L458.4,86.76L458.9,84.98L459.4,83.14L459.9,81.25L460.4,79.31L460.9,77.34L461.4,75.33L461.9,73.31L462.4,71.27L462.9,69.24L463.4,67.22L463.9,65.22L464.4,63.25L464.9,61.33L465.4,59.48L465.9,57.69L466.4,56L466.9,54.4L467.4,52.91L467.9,51.54L468.4,50.3L468.9,49.2L469.4,48.26L469.9,47.47L470.4,46.85L470.9,46.39L471.4,46.12L471.9,46.02L472.4,46.1L472.9,46.36L473.4,46.79L473.9,47.4L474.4,48.19L474.9,49.13L475.4,50.24L475.9,51.5L476.4,52.9L476.9,54.43L477.4,56.09L477.9,57.85L478.4,59.71L478.9,61.66L479.4,63.68L479.9,65.77L480.4,67.9L480.9,70.07L481.4,72.26L481.9,74.46L482.4,76.67L482.9,78.86L483.4,81.04L483.9,83.18L484.4,85.29L484.9,87.35L485.4,89.36L485.9,91.31L486.4,93.19L486.9,95.01L487.4,96.75L487.9,98.42L488.4,100.02L488.9,101.53L489.4,102.97L489.9,104.33L490.4,105.61L490.9,106.82L491.4,107.95L491.9,109.01L492.4,110L492.9,110.92L493.4,111.78L493.9,112.57L494.4,113.31L494.9,113.99L495.4,114.62L495.9,115.2L496.4,115.73L496.9,116.23L497.4,116.68L497.9,117.09L498.4,117.48L498.9,117.83L499.4,118.15L499.9,118.45L500.4,118.72L500.9,118.97L501.4,119.2L501.9,119.41L502.4,119.61L502.9,119.79L503.4,119.95L503.9,120.11L504.4,120.25L504.9,120.38L505.4,120.5L505.9,120.62L506.4,120.72L506.9,120.82L507.4,120.91L507.9,121L508.4,121.08L508.9,121.15L509.4,121.22L509.9,121.29L510.4,121.35L510.9,121.41L511.4,121.46L511.9,121.51L512.4,121.56L512.9,121.61L513.4,121.65L513.9,121.69L514.4,121.72L514.9,121.76L515.4,121.79L515.9,121.82L516.4,121.85L516.9,121.87L517.4,121.9L517.9,121.92L518.4,121.94L518.9,121.96L519.4,121.98L519.9,122L520.4,122.01L520.9,122.03L521.4,122.04L521.9,122.06L522.4,122.07L522.9,122.08L523.4,122.09L523.9,122.1L524.4,122.11L524.9,122.12L525.4,122.12L525.9,122.13L526.4,122.14L526.9,122.14L527.4,122.15L527.9,122.15L528.4,122.16L528.9,122.16L529.4,122.16L529.9,122.17L530.4,122.17L530.9,122.17L531.4,122.18L531.9,122.18L532.4,122.18L532.9,122.18L533.4,122.18L533.9,122.19L534.4,122.19L534.9,122.19L535.4,122.19L535.9,122.19L536.4,122.19L536.9,122.19L537.4,122.19L537.9,122.19L538.4,122.19L538.9,122.2L539.4,122.2L539.9,122.2L540.4,122.2L540.9,122.2L541.4,122.2L541.9,122.2L542.4,122.2L542.9,122.2L543.4,122.2L543.9,122.2L544.4,122.2L544.9,122.2" fill="none" stroke="#111" stroke-width="1.1"/>
<path d="M391.4,122.4L391.4,122.37L391.9,122.37L392.4,122.37L392.9,122.36L393.4,122.36L393.9,122.36L394.4,122.35L394.9,122.35L395.4,122.34L395.9,122.33L396.4,122.33L396.9,122.32L397.4,122.31L397.9,122.3L398.4,122.29L398.9,122.29L399.4,122.27L399.9,122.26L400.4,122.25L400.9,122.24L401.4,122.22L401.9,122.21L402.4,122.19L402.9,122.17L403.4,122.15L403.9,122.13L404.4,122.11L404.9,122.08L405.4,122.06L405.9,122.03L406.4,122L406.9,121.97L407.4,121.94L407.9,121.9L408.4,121.87L408.9,121.83L409.4,121.79L409.9,121.74L410.4,121.7L410.9,121.65L411.4,121.6L411.9,121.54L412.4,121.48L412.9,121.42L413.4,121.36L413.9,121.3L414.4,121.23L414.9,121.16L415.4,121.08L415.9,121L416.4,120.92L416.9,120.84L417.4,120.75L417.9,120.66L418.4,120.57L418.9,120.47L419.4,120.37L419.9,120.27L420.4,120.16L420.9,120.05L421.4,119.94L421.9,119.83L422.4,119.71L422.9,119.59L423.4,119.47L423.9,119.34L424.4,119.21L424.9,119.08L425.4,118.95L425.9,118.82L426.4,118.69L426.9,118.55L427.4,118.41L427.9,118.28L428.4,118.14L428.9,118L429.4,117.86L429.9,117.72L430.4,117.59L430.9,117.45L431.4,117.31L431.9,117.18L432.4,117.05L432.9,116.92L433.4,116.79L433.9,116.66L434.4,116.54L434.9,116.42L435.4,116.3L435.9,116.19L436.4,116.08L436.9,115.98L437.4,115.88L437.9,115.78L438.4,115.7L438.9,115.61L439.4,115.53L439.9,115.46L440.4,115.4L440.9,115.34L441.4,115.28L441.9,115.24L442.4,115.2L442.9,115.16L443.4,115.14L443.9,115.12L444.4,115.11L444.9,115.1L445.4,115.1L445.9,115.12L446.4,115.14L446.9,115.17L447.4,115.21L447.9,115.27L448.4,115.33L448.9,115.4L449.4,115.48L449.9,115.57L450.4,115.66L450.9,115.76L451.4,115.88L451.9,115.99L452.4,116.12L452.9,116.25L453.4,116.38L453.9,116.53L454.4,116.67L454.9,116.82L455.4,116.97L455.9,117.13L456.4,117.29L456.9,117.45L457.4,117.61L457.9,117.78L458.4,117.94L458.9,118.1L459.4,118.27L459.9,118.43L460.4,118.59L460.9,118.75L461.4,118.91L461.9,119.07L462.4,119.22L462.9,119.37L463.4,119.52L463.9,119.66L464.4,119.8L464.9,119.94L465.4,120.07L465.9,120.2L466.4,120.32L466.9,120.44L467.4,120.56L467.9,120.67L468.4,120.77L468.9,120.88L469.4,120.97L469.9,121.07L470.4,121.16L470.9,121.24L471.4,121.32L471.9,121.4L472.4,121.47L472.9,121.54L473.4,121.6L473.9,121.66L474.4,121.72L474.9,121.77L475.4,121.82L475.9,121.87L476.4,121.91L476.9,121.95L477.4,121.99L477.9,122.03L478.4,122.06L478.9,122.09L479.4,122.12L479.9,122.14L480.4,122.17L480.9,122.19L481.4,122.21L481.9,122.23L482.4,122.24L482.9,122.26L483.4,122.27L483.9,122.29L484.4,122.3L484.9,122.31L485.4,122.32L485.9,122.33L486.4,122.33L486.9,122.34L487.4,122.35L487.9,122.35L488.4,122.36L488.9,122.36L489.4,122.37L489.9,122.37L490.4,122.37L490.9,122.38L491.4,122.38L491.9,122.38L492.4,122.38L492.9,122.39L493.4,122.39L493.9,122.39L494.4,122.39L494.9,122.39L495.4,122.39L495.9,122.39L496.4,122.39L496.9,122.4L497.4,122.4L497.9,122.4L498.4,122.4L498.9,122.4L499.4,122.4L499.9,122.4L500.4,122.4L500.9,122.4L501.4,122.4L501.9,122.4L502.4,122.4L502.9,122.4L503.4,122.4L503.9,122.4L504.4,122.4L504.9,122.4L505.4,122.4L505.9,122.4L506.4,122.4L506.9,122.4L507.4,122.4L507.9,122.4L508.4,122.4L508.9,122.4L509.4,122.4L509.9,122.4L510.4,122.4L510.9,122.4L511.4,122.4L511.9,122.4L512.4,122.4L512.9,122.4L513.4,122.4L513.9,122.4L514.4,122.4L514.9,122.4L515.4,122.4L515.9,122.4L516.4,122.4L516.9,122.4L517.4,122.4L517.9,122.4L518.4,122.4L518.9,122.4L519.4,122.4L519.9,122.4L520.4,122.4L520.9,122.4L521.4,122.4L521.9,122.4L522.4,122.4L522.9,122.4L523.4,122.4L523.9,122.4L524.4,122.4L524.9,122.4L525.4,122.4L525.9,122.4L526.4,122.4L526.9,122.4L527.4,122.4L527.9,122.4L528.4,122.4L528.9,122.4L529.4,122.4L529.9,122.4L530.4,122.4L530.9,122.4L531.4,122.4L531.9,122.4L532.4,122.4L532.9,122.4L533.4,122.4L533.9,122.4L534.4,122.4L534.9,122.4L535.4,122.4L535.9,122.4L536.4,122.4L536.9,122.4L537.4,122.4L537.9,122.4L538.4,122.4L538.9,122.4L539.4,122.4L539.9,122.4L540.4,122.4L540.9,122.4L541.4,122.4L541.9,122.4L542.4,122.4L542.9,122.4L543.4,122.4L543.9,122.4L544.4,122.4L544.9,122.4L544.9,122.4Z" fill="#f51c1c" fill-opacity="0.9"/>
<path d="M391.4,122.37L391.9,122.37L392.4,122.37L392.9,122.36L393.4,122.36L393.9,122.36L394.4,122.35L394.9,122.35L395.4,122.34L395.9,122.33L396.4,122.33L396.9,122.32L397.4,122.31L397.9,122.3L398.4,122.29L398.9,122.29L399.4,122.27L399.9,122.26L400.4,122.25L400.9,122.24L401.4,122.22L401.9,122.21L402.4,122.19L402.9,122.17L403.4,122.15L403.9,122.13L404.4,122.11L404.9,122.08L405.4,122.06L405.9,122.03L406.4,122L406.9,121.97L407.4,121.94L407.9,121.9L408.4,121.87L408.9,121.83L409.4,121.79L409.9,121.74L410.4,121.7L410.9,121.65L411.4,121.6L411.9,121.54L412.4,121.48L412.9,121.42L413.4,121.36L413.9,121.3L414.4,121.23L414.9,121.16L415.4,121.08L415.9,121L416.4,120.92L416.9,120.84L417.4,120.75L417.9,120.66L418.4,120.57L418.9,120.47L419.4,120.37L419.9,120.27L420.4,120.16L420.9,120.05L421.4,119.94L421.9,119.83L422.4,119.71L422.9,119.59L423.4,119.47L423.9,119.34L424.4,119.21L424.9,119.08L425.4,118.95L425.9,118.82L426.4,118.69L426.9,118.55L427.4,118.41L427.9,118.28L428.4,118.14L428.9,118L429.4,117.86L429.9,117.72L430.4,117.59L430.9,117.45L431.4,117.31L431.9,117.18L432.4,117.05L432.9,116.92L433.4,116.79L433.9,116.66L434.4,116.54L434.9,116.42L435.4,116.3L435.9,116.19L436.4,116.08L436.9,115.98L437.4,115.88L437.9,115.78L438.4,115.7L438.9,115.61L439.4,115.53L439.9,115.46L440.4,115.4L440.9,115.34L441.4,115.28L441.9,115.24L442.4,115.2L442.9,115.16L443.4,115.14L443.9,115.12L444.4,115.11L444.9,115.1L445.4,115.1L445.9,115.12L446.4,115.14L446.9,115.17L447.4,115.21L447.9,115.27L448.4,115.33L448.9,115.4L449.4,115.48L449.9,115.57L450.4,115.66L450.9,115.76L451.4,115.88L451.9,115.99L452.4,116.12L452.9,116.25L453.4,116.38L453.9,116.53L454.4,116.67L454.9,116.82L455.4,116.97L455.9,117.13L456.4,117.29L456.9,117.45L457.4,117.61L457.9,117.78L458.4,117.94L458.9,118.1L459.4,118.27L459.9,118.43L460.4,118.59L460.9,118.75L461.4,118.91L461.9,119.07L462.4,119.22L462.9,119.37L463.4,119.52L463.9,119.66L464.4,119.8L464.9,119.94L465.4,120.07L465.9,120.2L466.4,120.32L466.9,120.44L467.4,120.56L467.9,120.67L468.4,120.77L468.9,120.88L469.4,120.97L469.9,121.07L470.4,121.16L470.9,121.24L471.4,121.32L471.9,121.4L472.4,121.47L472.9,121.54L473.4,121.6L473.9,121.66L474.4,121.72L474.9,121.77L475.4,121.82L475.9,121.87L476.4,121.91L476.9,121.95L477.4,121.99L477.9,122.03L478.4,122.06L478.9,122.09L479.4,122.12L479.9,122.14L480.4,122.17L480.9,122.19L481.4,122.21L481.9,122.23L482.4,122.24L482.9,122.26L483.4,122.27L483.9,122.29L484.4,122.3L484.9,122.31L485.4,122.32L485.9,122.33L486.4,122.33L486.9,122.34L487.4,122.35L487.9,122.35L488.4,122.36L488.9,122.36L489.4,122.37L489.9,122.37L490.4,122.37L490.9,122.38L491.4,122.38L491.9,122.38L492.4,122.38L492.9,122.39L493.4,122.39L493.9,122.39L494.4,122.39L494.9,122.39L495.4,122.39L495.9,122.39L496.4,122.39L496.9,122.4L497.4,122.4L497.9,122.4L498.4,122.4L498.9,122.4L499.4,122.4L499.9,122.4L500.4,122.4L500.9,122.4L501.4,122.4L501.9,122.4L502.4,122.4L502.9,122.4L503.4,122.4L503.9,122.4L504.4,122.4L504.9,122.4L505.4,122.4L505.9,122.4L506.4,122.4L506.9,122.4L507.4,122.4L507.9,122.4L508.4,122.4L508.9,122.4L509.4,122.4L509.9,122.4L510.4,122.4L510.9,122.4L511.4,122.4L511.9,122.4L512.4,122.4L512.9,122.4L513.4,122.4L513.9,122.4L514.4,122.4L514.9,122.4L515.4,122.4L515.9,122.4L516.4,122.4L516.9,122.4L517.4,122.4L517.9,122.4L518.4,122.4L518.9,122.4L519.4,122.4L519.9,122.4L520.4,122.4L520.9,122.4L521.4,122.4L521.9,122.4L522.4,122.4L522.9,122.4L523.4,122.4L523.9,122.4L524.4,122.4L524.9,122.4L525.4,122.4L525.9,122.4L526.4,122.4L526.9,122.4L527.4,122.4L527.9,122.4L528.4,122.4L528.9,122.4L529.4,122.4L529.9,122.4L530.4,122.4L530.9,122.4L531.4,122.4L531.9,122.4L532.4,122.4L532.9,122.4L533.4,122.4L533.9,122.4L534.4,122.4L534.9,122.4L535.4,122.4L535.9,122.4L536.4,122.4L536.9,122.4L537.4,122.4L537.9,122.4L538.4,122.4L538.9,122.4L539.4,122.4L539.9,122.4L540.4,122.4L540.9,122.4L541.4,122.4L541.9,122.4L542.4,122.4L542.9,122.4L543.4,122.4L543.9,122.4L544.4,122.4L544.9,122.4" fill="none" stroke="#ff2626" stroke-width="1.2"/>
<path d="M410.09,122.5v-2.3M448.87,122.5v-2.3M487.65,122.5v-2.3M526.43,122.5v-2.3M390.7,122.5v-1.3M429.48,122.5v-1.3M468.26,122.5v-1.3M507.04,122.5v-1.3M545.82,122.5v-1.3" stroke="#2b2b2b" stroke-width="0.9" fill="none" stroke-opacity="0.8"/>
<text transform="translate(410.09,131.6) scale(1,1.12)" text-anchor="middle" class="tk">534</text>
<text transform="translate(448.87,131.6) scale(1,1.12)" text-anchor="middle" class="tk">532</text>
<text transform="translate(487.65,131.6) scale(1,1.12)" text-anchor="middle" class="tk">530</text>
<text transform="translate(526.43,131.6) scale(1,1.12)" text-anchor="middle" class="tk">528</text>
<line x1="390.7" x2="545.9" y1="122.6" y2="122.6" stroke="#e82020" stroke-width="1.6"/>
<text transform="translate(384.2,69) rotate(-90)" text-anchor="middle" class="lb" font-size="8.8">Intensity (a.u.)</text>
<text transform="translate(468.3,141.7) scale(1,1.12)" text-anchor="middle" class="lb" font-size="8.82">Binding energy (eV)</text>
<text transform="translate(396.5,21.3) scale(1,1.12)" class="lb" font-size="9.7">(e) DP-HfO<tspan font-size="7" dy="1.9">2</tspan></text>
<text transform="translate(396.6,35.6) scale(1,1.12)" class="lb" font-size="10">O 1s</text>
<line x1="481.1" x2="499" y1="17.3" y2="17.3" stroke="#111" stroke-width="1.2"/>
<text transform="translate(501.5,20.1) scale(1,1.12)" class="lb" font-size="7.7">Lattice</text>
<line x1="481.1" x2="499" y1="27.2" y2="27.2" stroke="#ff3030" stroke-width="1.2"/>
<text transform="translate(501.5,30) scale(1,1.12)" class="lb" font-size="7.7">Non-lattice</text>
<text transform="translate(425.2,87.8) scale(1,1.12)" text-anchor="middle" class="lb" font-size="8.2" style="fill:#ff1a1a;stroke:#ff1a1a">Non-lattice</text>
<text transform="translate(425.2,98.1) scale(1,1.12)" text-anchor="middle" class="lb" font-size="8.2" style="fill:#ff1a1a;stroke:#ff1a1a">(10.85%)</text>
<line x1="425" y1="101" x2="428.98" y2="111.74" stroke="#ff1a1a" stroke-width="1.15"/>
<path d="M430.3,115.3L427.2,112.4L430.76,111.08Z" fill="#ff1a1a"/>
<rect x="390.7" y="151.3" width="155.2" height="115.6" fill="none" stroke="#2b2b2b" stroke-width="1.3"/>
<path d="M391.4,266.8L391.4,266.8L391.9,266.8L392.4,266.8L392.9,266.8L393.4,266.8L393.9,266.8L394.4,266.8L394.9,266.8L395.4,266.8L395.9,266.8L396.4,266.8L396.9,266.8L397.4,266.8L397.9,266.8L398.4,266.8L398.9,266.8L399.4,266.8L399.9,266.8L400.4,266.8L400.9,266.8L401.4,266.8L401.9,266.8L402.4,266.8L402.9,266.8L403.4,266.8L403.9,266.8L404.4,266.8L404.9,266.8L405.4,266.8L405.9,266.8L406.4,266.8L406.9,266.8L407.4,266.8L407.9,266.8L408.4,266.8L408.9,266.8L409.4,266.8L409.9,266.8L410.4,266.8L410.9,266.8L411.4,266.8L411.9,266.8L412.4,266.8L412.9,266.8L413.4,266.8L413.9,266.8L414.4,266.8L414.9,266.8L415.4,266.8L415.9,266.8L416.4,266.8L416.9,266.8L417.4,266.8L417.9,266.8L418.4,266.8L418.9,266.8L419.4,266.8L419.9,266.8L420.4,266.8L420.9,266.8L421.4,266.8L421.9,266.79L422.4,266.79L422.9,266.79L423.4,266.79L423.9,266.79L424.4,266.78L424.9,266.78L425.4,266.78L425.9,266.77L426.4,266.77L426.9,266.76L427.4,266.75L427.9,266.74L428.4,266.73L428.9,266.72L429.4,266.71L429.9,266.69L430.4,266.67L430.9,266.65L431.4,266.62L431.9,266.59L432.4,266.55L432.9,266.51L433.4,266.46L433.9,266.41L434.4,266.34L434.9,266.27L435.4,266.19L435.9,266.09L436.4,265.98L436.9,265.86L437.4,265.73L437.9,265.57L438.4,265.4L438.9,265.2L439.4,264.98L439.9,264.73L440.4,264.46L440.9,264.15L441.4,263.81L441.9,263.44L442.4,263.02L442.9,262.56L443.4,262.06L443.9,261.5L444.4,260.89L444.9,260.23L445.4,259.51L445.9,258.72L446.4,257.86L446.9,256.94L447.4,255.94L447.9,254.87L448.4,253.71L448.9,252.48L449.4,251.16L449.9,249.75L450.4,248.25L450.9,246.66L451.4,244.98L451.9,243.21L452.4,241.34L452.9,239.38L453.4,237.34L453.9,235.2L454.4,232.98L454.9,230.67L455.4,228.29L455.9,225.83L456.4,223.3L456.9,220.71L457.4,218.07L457.9,215.37L458.4,212.64L458.9,209.88L459.4,207.1L459.9,204.32L460.4,201.53L460.9,198.76L461.4,196.01L461.9,193.3L462.4,190.65L462.9,188.05L463.4,185.54L463.9,183.11L464.4,180.79L464.9,178.58L465.4,176.49L465.9,174.55L466.4,172.75L466.9,171.12L467.4,169.65L467.9,168.36L468.4,167.26L468.9,166.34L469.4,165.63L469.9,165.11L470.4,164.8L470.9,164.7L471.4,164.8L471.9,165.11L472.4,165.63L472.9,166.34L473.4,167.26L473.9,168.36L474.4,169.65L474.9,171.12L475.4,172.75L475.9,174.55L476.4,176.49L476.9,178.58L477.4,180.79L477.9,183.11L478.4,185.54L478.9,188.05L479.4,190.65L479.9,193.3L480.4,196.01L480.9,198.76L481.4,201.53L481.9,204.32L482.4,207.1L482.9,209.88L483.4,212.64L483.9,215.37L484.4,218.07L484.9,220.71L485.4,223.3L485.9,225.83L486.4,228.29L486.9,230.67L487.4,232.98L487.9,235.2L488.4,237.34L488.9,239.38L489.4,241.34L489.9,243.21L490.4,244.98L490.9,246.66L491.4,248.25L491.9,249.75L492.4,251.16L492.9,252.48L493.4,253.71L493.9,254.87L494.4,255.94L494.9,256.94L495.4,257.86L495.9,258.72L496.4,259.51L496.9,260.23L497.4,260.89L497.9,261.5L498.4,262.06L498.9,262.56L499.4,263.02L499.9,263.44L500.4,263.81L500.9,264.15L501.4,264.46L501.9,264.73L502.4,264.98L502.9,265.2L503.4,265.4L503.9,265.57L504.4,265.73L504.9,265.86L505.4,265.98L505.9,266.09L506.4,266.19L506.9,266.27L507.4,266.34L507.9,266.41L508.4,266.46L508.9,266.51L509.4,266.55L509.9,266.59L510.4,266.62L510.9,266.65L511.4,266.67L511.9,266.69L512.4,266.71L512.9,266.72L513.4,266.73L513.9,266.74L514.4,266.75L514.9,266.76L515.4,266.77L515.9,266.77L516.4,266.78L516.9,266.78L517.4,266.78L517.9,266.79L518.4,266.79L518.9,266.79L519.4,266.79L519.9,266.79L520.4,266.8L520.9,266.8L521.4,266.8L521.9,266.8L522.4,266.8L522.9,266.8L523.4,266.8L523.9,266.8L524.4,266.8L524.9,266.8L525.4,266.8L525.9,266.8L526.4,266.8L526.9,266.8L527.4,266.8L527.9,266.8L528.4,266.8L528.9,266.8L529.4,266.8L529.9,266.8L530.4,266.8L530.9,266.8L531.4,266.8L531.9,266.8L532.4,266.8L532.9,266.8L533.4,266.8L533.9,266.8L534.4,266.8L534.9,266.8L535.4,266.8L535.9,266.8L536.4,266.8L536.9,266.8L537.4,266.8L537.9,266.8L538.4,266.8L538.9,266.8L539.4,266.8L539.9,266.8L540.4,266.8L540.9,266.8L541.4,266.8L541.9,266.8L542.4,266.8L542.9,266.8L543.4,266.8L543.9,266.8L544.4,266.8L544.9,266.8L544.9,266.8Z" fill="#bebebe"/>
<path d="M391.4,266.8L391.9,266.8L392.4,266.8L392.9,266.8L393.4,266.8L393.9,266.8L394.4,266.8L394.9,266.8L395.4,266.8L395.9,266.8L396.4,266.8L396.9,266.8L397.4,266.8L397.9,266.8L398.4,266.8L398.9,266.8L399.4,266.8L399.9,266.8L400.4,266.8L400.9,266.8L401.4,266.8L401.9,266.8L402.4,266.8L402.9,266.8L403.4,266.8L403.9,266.8L404.4,266.8L404.9,266.8L405.4,266.8L405.9,266.8L406.4,266.8L406.9,266.8L407.4,266.8L407.9,266.8L408.4,266.8L408.9,266.8L409.4,266.8L409.9,266.8L410.4,266.8L410.9,266.8L411.4,266.8L411.9,266.8L412.4,266.8L412.9,266.8L413.4,266.8L413.9,266.8L414.4,266.8L414.9,266.8L415.4,266.8L415.9,266.8L416.4,266.8L416.9,266.8L417.4,266.8L417.9,266.8L418.4,266.8L418.9,266.8L419.4,266.8L419.9,266.8L420.4,266.8L420.9,266.8L421.4,266.8L421.9,266.79L422.4,266.79L422.9,266.79L423.4,266.79L423.9,266.79L424.4,266.78L424.9,266.78L425.4,266.78L425.9,266.77L426.4,266.77L426.9,266.76L427.4,266.75L427.9,266.74L428.4,266.73L428.9,266.72L429.4,266.71L429.9,266.69L430.4,266.67L430.9,266.65L431.4,266.62L431.9,266.59L432.4,266.55L432.9,266.51L433.4,266.46L433.9,266.41L434.4,266.34L434.9,266.27L435.4,266.19L435.9,266.09L436.4,265.98L436.9,265.86L437.4,265.73L437.9,265.57L438.4,265.4L438.9,265.2L439.4,264.98L439.9,264.73L440.4,264.46L440.9,264.15L441.4,263.81L441.9,263.44L442.4,263.02L442.9,262.56L443.4,262.06L443.9,261.5L444.4,260.89L444.9,260.23L445.4,259.51L445.9,258.72L446.4,257.86L446.9,256.94L447.4,255.94L447.9,254.87L448.4,253.71L448.9,252.48L449.4,251.16L449.9,249.75L450.4,248.25L450.9,246.66L451.4,244.98L451.9,243.21L452.4,241.34L452.9,239.38L453.4,237.34L453.9,235.2L454.4,232.98L454.9,230.67L455.4,228.29L455.9,225.83L456.4,223.3L456.9,220.71L457.4,218.07L457.9,215.37L458.4,212.64L458.9,209.88L459.4,207.1L459.9,204.32L460.4,201.53L460.9,198.76L461.4,196.01L461.9,193.3L462.4,190.65L462.9,188.05L463.4,185.54L463.9,183.11L464.4,180.79L464.9,178.58L465.4,176.49L465.9,174.55L466.4,172.75L466.9,171.12L467.4,169.65L467.9,168.36L468.4,167.26L468.9,166.34L469.4,165.63L469.9,165.11L470.4,164.8L470.9,164.7L471.4,164.8L471.9,165.11L472.4,165.63L472.9,166.34L473.4,167.26L473.9,168.36L474.4,169.65L474.9,171.12L475.4,172.75L475.9,174.55L476.4,176.49L476.9,178.58L477.4,180.79L477.9,183.11L478.4,185.54L478.9,188.05L479.4,190.65L479.9,193.3L480.4,196.01L480.9,198.76L481.4,201.53L481.9,204.32L482.4,207.1L482.9,209.88L483.4,212.64L483.9,215.37L484.4,218.07L484.9,220.71L485.4,223.3L485.9,225.83L486.4,228.29L486.9,230.67L487.4,232.98L487.9,235.2L488.4,237.34L488.9,239.38L489.4,241.34L489.9,243.21L490.4,244.98L490.9,246.66L491.4,248.25L491.9,249.75L492.4,251.16L492.9,252.48L493.4,253.71L493.9,254.87L494.4,255.94L494.9,256.94L495.4,257.86L495.9,258.72L496.4,259.51L496.9,260.23L497.4,260.89L497.9,261.5L498.4,262.06L498.9,262.56L499.4,263.02L499.9,263.44L500.4,263.81L500.9,264.15L501.4,264.46L501.9,264.73L502.4,264.98L502.9,265.2L503.4,265.4L503.9,265.57L504.4,265.73L504.9,265.86L505.4,265.98L505.9,266.09L506.4,266.19L506.9,266.27L507.4,266.34L507.9,266.41L508.4,266.46L508.9,266.51L509.4,266.55L509.9,266.59L510.4,266.62L510.9,266.65L511.4,266.67L511.9,266.69L512.4,266.71L512.9,266.72L513.4,266.73L513.9,266.74L514.4,266.75L514.9,266.76L515.4,266.77L515.9,266.77L516.4,266.78L516.9,266.78L517.4,266.78L517.9,266.79L518.4,266.79L518.9,266.79L519.4,266.79L519.9,266.79L520.4,266.8L520.9,266.8L521.4,266.8L521.9,266.8L522.4,266.8L522.9,266.8L523.4,266.8L523.9,266.8L524.4,266.8L524.9,266.8L525.4,266.8L525.9,266.8L526.4,266.8L526.9,266.8L527.4,266.8L527.9,266.8L528.4,266.8L528.9,266.8L529.4,266.8L529.9,266.8L530.4,266.8L530.9,266.8L531.4,266.8L531.9,266.8L532.4,266.8L532.9,266.8L533.4,266.8L533.9,266.8L534.4,266.8L534.9,266.8L535.4,266.8L535.9,266.8L536.4,266.8L536.9,266.8L537.4,266.8L537.9,266.8L538.4,266.8L538.9,266.8L539.4,266.8L539.9,266.8L540.4,266.8L540.9,266.8L541.4,266.8L541.9,266.8L542.4,266.8L542.9,266.8L543.4,266.8L543.9,266.8L544.4,266.8L544.9,266.8" fill="none" stroke="#111" stroke-width="1.1"/>
<path d="M391.4,266.59L391.9,266.59L392.4,266.59L392.9,266.59L393.4,266.58L393.9,266.58L394.4,266.58L394.9,266.58L395.4,266.57L395.9,266.57L396.4,266.57L396.9,266.56L397.4,266.56L397.9,266.55L398.4,266.55L398.9,266.54L399.4,266.54L399.9,266.53L400.4,266.52L400.9,266.51L401.4,266.5L401.9,266.49L402.4,266.48L402.9,266.47L403.4,266.46L403.9,266.44L404.4,266.42L404.9,266.41L405.4,266.39L405.9,266.37L406.4,266.35L406.9,266.32L407.4,266.3L407.9,266.27L408.4,266.24L408.9,266.21L409.4,266.18L409.9,266.14L410.4,266.1L410.9,266.06L411.4,266.02L411.9,265.97L412.4,265.92L412.9,265.87L413.4,265.81L413.9,265.75L414.4,265.69L414.9,265.63L415.4,265.56L415.9,265.49L416.4,265.41L416.9,265.33L417.4,265.25L417.9,265.16L418.4,265.07L418.9,264.98L419.4,264.88L419.9,264.78L420.4,264.67L420.9,264.57L421.4,264.45L421.9,264.34L422.4,264.22L422.9,264.1L423.4,263.97L423.9,263.84L424.4,263.71L424.9,263.57L425.4,263.44L425.9,263.29L426.4,263.15L426.9,263.01L427.4,262.86L427.9,262.71L428.4,262.55L428.9,262.4L429.4,262.24L429.9,262.08L430.4,261.92L430.9,261.76L431.4,261.6L431.9,261.43L432.4,261.26L432.9,261.09L433.4,260.91L433.9,260.73L434.4,260.55L434.9,260.36L435.4,260.17L435.9,259.97L436.4,259.76L436.9,259.55L437.4,259.32L437.9,259.08L438.4,258.83L438.9,258.57L439.4,258.29L439.9,257.99L440.4,257.67L440.9,257.32L441.4,256.95L441.9,256.56L442.4,256.13L442.9,255.66L443.4,255.16L443.9,254.63L444.4,254.06L444.9,253.45L445.4,252.8L445.9,252.09L446.4,251.34L446.9,250.53L447.4,249.66L447.9,248.73L448.4,247.72L448.9,246.65L449.4,245.5L449.9,244.27L450.4,242.95L450.9,241.56L451.4,240.07L451.9,238.5L452.4,236.83L452.9,235.08L453.4,233.24L453.9,231.3L454.4,229.28L454.9,227.17L455.4,224.98L455.9,222.71L456.4,220.37L456.9,217.96L457.4,215.49L457.9,212.97L458.4,210.4L458.9,207.79L459.4,205.16L459.9,202.51L460.4,199.85L460.9,197.21L461.4,194.58L461.9,191.98L462.4,189.43L462.9,186.93L463.4,184.5L463.9,182.16L464.4,179.91L464.9,177.77L465.4,175.75L465.9,173.86L466.4,172.12L466.9,170.53L467.4,169.11L467.9,167.86L468.4,166.79L468.9,165.91L469.4,165.22L469.9,164.73L470.4,164.45L470.9,164.36L471.4,164.48L471.9,164.81L472.4,165.34L472.9,166.07L473.4,166.99L473.9,168.11L474.4,169.4L474.9,170.88L475.4,172.52L475.9,174.32L476.4,176.27L476.9,178.36L477.4,180.57L477.9,182.9L478.4,185.32L478.9,187.84L479.4,190.44L479.9,193.1L480.4,195.8L480.9,198.55L481.4,201.32L481.9,204.11L482.4,206.9L482.9,209.68L483.4,212.44L483.9,215.17L484.4,217.87L484.9,220.51L485.4,223.1L485.9,225.63L486.4,228.09L486.9,230.47L487.4,232.78L487.9,235L488.4,237.14L488.9,239.18L489.4,241.14L489.9,243.01L490.4,244.78L490.9,246.46L491.4,248.05L491.9,249.55L492.4,250.96L492.9,252.28L493.4,253.51L493.9,254.67L494.4,255.74L494.9,256.74L495.4,257.66L495.9,258.52L496.4,259.31L496.9,260.03L497.4,260.69L497.9,261.3L498.4,261.86L498.9,262.36L499.4,262.82L499.9,263.24L500.4,263.61L500.9,263.95L501.4,264.26L501.9,264.53L502.4,264.78L502.9,265L503.4,265.2L503.9,265.37L504.4,265.53L504.9,265.66L505.4,265.78L505.9,265.89L506.4,265.99L506.9,266.07L507.4,266.14L507.9,266.21L508.4,266.26L508.9,266.31L509.4,266.35L509.9,266.39L510.4,266.42L510.9,266.45L511.4,266.47L511.9,266.49L512.4,266.51L512.9,266.52L513.4,266.53L513.9,266.54L514.4,266.55L514.9,266.56L515.4,266.57L515.9,266.57L516.4,266.58L516.9,266.58L517.4,266.58L517.9,266.59L518.4,266.59L518.9,266.59L519.4,266.59L519.9,266.59L520.4,266.6L520.9,266.6L521.4,266.6L521.9,266.6L522.4,266.6L522.9,266.6L523.4,266.6L523.9,266.6L524.4,266.6L524.9,266.6L525.4,266.6L525.9,266.6L526.4,266.6L526.9,266.6L527.4,266.6L527.9,266.6L528.4,266.6L528.9,266.6L529.4,266.6L529.9,266.6L530.4,266.6L530.9,266.6L531.4,266.6L531.9,266.6L532.4,266.6L532.9,266.6L533.4,266.6L533.9,266.6L534.4,266.6L534.9,266.6L535.4,266.6L535.9,266.6L536.4,266.6L536.9,266.6L537.4,266.6L537.9,266.6L538.4,266.6L538.9,266.6L539.4,266.6L539.9,266.6L540.4,266.6L540.9,266.6L541.4,266.6L541.9,266.6L542.4,266.6L542.9,266.6L543.4,266.6L543.9,266.6L544.4,266.6L544.9,266.6" fill="none" stroke="#111" stroke-width="1.1"/>
<path d="M391.4,266.8L391.4,266.79L391.9,266.79L392.4,266.79L392.9,266.79L393.4,266.78L393.9,266.78L394.4,266.78L394.9,266.78L395.4,266.77L395.9,266.77L396.4,266.77L396.9,266.76L397.4,266.76L397.9,266.75L398.4,266.75L398.9,266.74L399.4,266.74L399.9,266.73L400.4,266.72L400.9,266.71L401.4,266.7L401.9,266.69L402.4,266.68L402.9,266.67L403.4,266.66L403.9,266.64L404.4,266.62L404.9,266.61L405.4,266.59L405.9,266.57L406.4,266.55L406.9,266.52L407.4,266.5L407.9,266.47L408.4,266.44L408.9,266.41L409.4,266.38L409.9,266.34L410.4,266.3L410.9,266.26L411.4,266.22L411.9,266.17L412.4,266.12L412.9,266.07L413.4,266.01L413.9,265.96L414.4,265.89L414.9,265.83L415.4,265.76L415.9,265.69L416.4,265.61L416.9,265.53L417.4,265.45L417.9,265.36L418.4,265.27L418.9,265.18L419.4,265.08L419.9,264.98L420.4,264.88L420.9,264.77L421.4,264.66L421.9,264.54L422.4,264.43L422.9,264.31L423.4,264.18L423.9,264.05L424.4,263.92L424.9,263.79L425.4,263.66L425.9,263.52L426.4,263.38L426.9,263.25L427.4,263.1L427.9,262.96L428.4,262.82L428.9,262.68L429.4,262.54L429.9,262.4L430.4,262.26L430.9,262.12L431.4,261.98L431.9,261.84L432.4,261.71L432.9,261.58L433.4,261.45L433.9,261.33L434.4,261.21L434.9,261.09L435.4,260.98L435.9,260.88L436.4,260.78L436.9,260.68L437.4,260.59L437.9,260.51L438.4,260.44L438.9,260.37L439.4,260.31L439.9,260.26L440.4,260.21L440.9,260.17L441.4,260.14L441.9,260.12L442.4,260.11L442.9,260.1L443.4,260.11L443.9,260.13L444.4,260.17L444.9,260.22L445.4,260.29L445.9,260.38L446.4,260.48L446.9,260.59L447.4,260.72L447.9,260.86L448.4,261.01L448.9,261.17L449.4,261.34L449.9,261.52L450.4,261.7L450.9,261.9L451.4,262.09L451.9,262.29L452.4,262.49L452.9,262.7L453.4,262.9L453.9,263.1L454.4,263.3L454.9,263.5L455.4,263.69L455.9,263.88L456.4,264.07L456.9,264.25L457.4,264.42L457.9,264.59L458.4,264.75L458.9,264.91L459.4,265.05L459.9,265.19L460.4,265.33L460.9,265.45L461.4,265.57L461.9,265.68L462.4,265.78L462.9,265.87L463.4,265.96L463.9,266.05L464.4,266.12L464.9,266.19L465.4,266.25L465.9,266.31L466.4,266.37L466.9,266.41L467.4,266.46L467.9,266.5L468.4,266.53L468.9,266.57L469.4,266.59L469.9,266.62L470.4,266.64L470.9,266.66L471.4,266.68L471.9,266.7L472.4,266.71L472.9,266.72L473.4,266.73L473.9,266.74L474.4,266.75L474.9,266.76L475.4,266.76L475.9,266.77L476.4,266.77L476.9,266.78L477.4,266.78L477.9,266.78L478.4,266.79L478.9,266.79L479.4,266.79L479.9,266.79L480.4,266.79L480.9,266.79L481.4,266.8L481.9,266.8L482.4,266.8L482.9,266.8L483.4,266.8L483.9,266.8L484.4,266.8L484.9,266.8L485.4,266.8L485.9,266.8L486.4,266.8L486.9,266.8L487.4,266.8L487.9,266.8L488.4,266.8L488.9,266.8L489.4,266.8L489.9,266.8L490.4,266.8L490.9,266.8L491.4,266.8L491.9,266.8L492.4,266.8L492.9,266.8L493.4,266.8L493.9,266.8L494.4,266.8L494.9,266.8L495.4,266.8L495.9,266.8L496.4,266.8L496.9,266.8L497.4,266.8L497.9,266.8L498.4,266.8L498.9,266.8L499.4,266.8L499.9,266.8L500.4,266.8L500.9,266.8L501.4,266.8L501.9,266.8L502.4,266.8L502.9,266.8L503.4,266.8L503.9,266.8L504.4,266.8L504.9,266.8L505.4,266.8L505.9,266.8L506.4,266.8L506.9,266.8L507.4,266.8L507.9,266.8L508.4,266.8L508.9,266.8L509.4,266.8L509.9,266.8L510.4,266.8L510.9,266.8L511.4,266.8L511.9,266.8L512.4,266.8L512.9,266.8L513.4,266.8L513.9,266.8L514.4,266.8L514.9,266.8L515.4,266.8L515.9,266.8L516.4,266.8L516.9,266.8L517.4,266.8L517.9,266.8L518.4,266.8L518.9,266.8L519.4,266.8L519.9,266.8L520.4,266.8L520.9,266.8L521.4,266.8L521.9,266.8L522.4,266.8L522.9,266.8L523.4,266.8L523.9,266.8L524.4,266.8L524.9,266.8L525.4,266.8L525.9,266.8L526.4,266.8L526.9,266.8L527.4,266.8L527.9,266.8L528.4,266.8L528.9,266.8L529.4,266.8L529.9,266.8L530.4,266.8L530.9,266.8L531.4,266.8L531.9,266.8L532.4,266.8L532.9,266.8L533.4,266.8L533.9,266.8L534.4,266.8L534.9,266.8L535.4,266.8L535.9,266.8L536.4,266.8L536.9,266.8L537.4,266.8L537.9,266.8L538.4,266.8L538.9,266.8L539.4,266.8L539.9,266.8L540.4,266.8L540.9,266.8L541.4,266.8L541.9,266.8L542.4,266.8L542.9,266.8L543.4,266.8L543.9,266.8L544.4,266.8L544.9,266.8L544.9,266.8Z" fill="#f51c1c" fill-opacity="0.9"/>
<path d="M391.4,266.79L391.9,266.79L392.4,266.79L392.9,266.79L393.4,266.78L393.9,266.78L394.4,266.78L394.9,266.78L395.4,266.77L395.9,266.77L396.4,266.77L396.9,266.76L397.4,266.76L397.9,266.75L398.4,266.75L398.9,266.74L399.4,266.74L399.9,266.73L400.4,266.72L400.9,266.71L401.4,266.7L401.9,266.69L402.4,266.68L402.9,266.67L403.4,266.66L403.9,266.64L404.4,266.62L404.9,266.61L405.4,266.59L405.9,266.57L406.4,266.55L406.9,266.52L407.4,266.5L407.9,266.47L408.4,266.44L408.9,266.41L409.4,266.38L409.9,266.34L410.4,266.3L410.9,266.26L411.4,266.22L411.9,266.17L412.4,266.12L412.9,266.07L413.4,266.01L413.9,265.96L414.4,265.89L414.9,265.83L415.4,265.76L415.9,265.69L416.4,265.61L416.9,265.53L417.4,265.45L417.9,265.36L418.4,265.27L418.9,265.18L419.4,265.08L419.9,264.98L420.4,264.88L420.9,264.77L421.4,264.66L421.9,264.54L422.4,264.43L422.9,264.31L423.4,264.18L423.9,264.05L424.4,263.92L424.9,263.79L425.4,263.66L425.9,263.52L426.4,263.38L426.9,263.25L427.4,263.1L427.9,262.96L428.4,262.82L428.9,262.68L429.4,262.54L429.9,262.4L430.4,262.26L430.9,262.12L431.4,261.98L431.9,261.84L432.4,261.71L432.9,261.58L433.4,261.45L433.9,261.33L434.4,261.21L434.9,261.09L435.4,260.98L435.9,260.88L436.4,260.78L436.9,260.68L437.4,260.59L437.9,260.51L438.4,260.44L438.9,260.37L439.4,260.31L439.9,260.26L440.4,260.21L440.9,260.17L441.4,260.14L441.9,260.12L442.4,260.11L442.9,260.1L443.4,260.11L443.9,260.13L444.4,260.17L444.9,260.22L445.4,260.29L445.9,260.38L446.4,260.48L446.9,260.59L447.4,260.72L447.9,260.86L448.4,261.01L448.9,261.17L449.4,261.34L449.9,261.52L450.4,261.7L450.9,261.9L451.4,262.09L451.9,262.29L452.4,262.49L452.9,262.7L453.4,262.9L453.9,263.1L454.4,263.3L454.9,263.5L455.4,263.69L455.9,263.88L456.4,264.07L456.9,264.25L457.4,264.42L457.9,264.59L458.4,264.75L458.9,264.91L459.4,265.05L459.9,265.19L460.4,265.33L460.9,265.45L461.4,265.57L461.9,265.68L462.4,265.78L462.9,265.87L463.4,265.96L463.9,266.05L464.4,266.12L464.9,266.19L465.4,266.25L465.9,266.31L466.4,266.37L466.9,266.41L467.4,266.46L467.9,266.5L468.4,266.53L468.9,266.57L469.4,266.59L469.9,266.62L470.4,266.64L470.9,266.66L471.4,266.68L471.9,266.7L472.4,266.71L472.9,266.72L473.4,266.73L473.9,266.74L474.4,266.75L474.9,266.76L475.4,266.76L475.9,266.77L476.4,266.77L476.9,266.78L477.4,266.78L477.9,266.78L478.4,266.79L478.9,266.79L479.4,266.79L479.9,266.79L480.4,266.79L480.9,266.79L481.4,266.8L481.9,266.8L482.4,266.8L482.9,266.8L483.4,266.8L483.9,266.8L484.4,266.8L484.9,266.8L485.4,266.8L485.9,266.8L486.4,266.8L486.9,266.8L487.4,266.8L487.9,266.8L488.4,266.8L488.9,266.8L489.4,266.8L489.9,266.8L490.4,266.8L490.9,266.8L491.4,266.8L491.9,266.8L492.4,266.8L492.9,266.8L493.4,266.8L493.9,266.8L494.4,266.8L494.9,266.8L495.4,266.8L495.9,266.8L496.4,266.8L496.9,266.8L497.4,266.8L497.9,266.8L498.4,266.8L498.9,266.8L499.4,266.8L499.9,266.8L500.4,266.8L500.9,266.8L501.4,266.8L501.9,266.8L502.4,266.8L502.9,266.8L503.4,266.8L503.9,266.8L504.4,266.8L504.9,266.8L505.4,266.8L505.9,266.8L506.4,266.8L506.9,266.8L507.4,266.8L507.9,266.8L508.4,266.8L508.9,266.8L509.4,266.8L509.9,266.8L510.4,266.8L510.9,266.8L511.4,266.8L511.9,266.8L512.4,266.8L512.9,266.8L513.4,266.8L513.9,266.8L514.4,266.8L514.9,266.8L515.4,266.8L515.9,266.8L516.4,266.8L516.9,266.8L517.4,266.8L517.9,266.8L518.4,266.8L518.9,266.8L519.4,266.8L519.9,266.8L520.4,266.8L520.9,266.8L521.4,266.8L521.9,266.8L522.4,266.8L522.9,266.8L523.4,266.8L523.9,266.8L524.4,266.8L524.9,266.8L525.4,266.8L525.9,266.8L526.4,266.8L526.9,266.8L527.4,266.8L527.9,266.8L528.4,266.8L528.9,266.8L529.4,266.8L529.9,266.8L530.4,266.8L530.9,266.8L531.4,266.8L531.9,266.8L532.4,266.8L532.9,266.8L533.4,266.8L533.9,266.8L534.4,266.8L534.9,266.8L535.4,266.8L535.9,266.8L536.4,266.8L536.9,266.8L537.4,266.8L537.9,266.8L538.4,266.8L538.9,266.8L539.4,266.8L539.9,266.8L540.4,266.8L540.9,266.8L541.4,266.8L541.9,266.8L542.4,266.8L542.9,266.8L543.4,266.8L543.9,266.8L544.4,266.8L544.9,266.8" fill="none" stroke="#ff2626" stroke-width="1.2"/>
<path d="M410.09,266.9v-2.3M448.87,266.9v-2.3M487.65,266.9v-2.3M526.43,266.9v-2.3M390.7,266.9v-1.3M429.48,266.9v-1.3M468.26,266.9v-1.3M507.04,266.9v-1.3M545.82,266.9v-1.3" stroke="#2b2b2b" stroke-width="0.9" fill="none" stroke-opacity="0.8"/>
<text transform="translate(410.09,276) scale(1,1.12)" text-anchor="middle" class="tk">534</text>
<text transform="translate(448.87,276) scale(1,1.12)" text-anchor="middle" class="tk">532</text>
<text transform="translate(487.65,276) scale(1,1.12)" text-anchor="middle" class="tk">530</text>
<text transform="translate(526.43,276) scale(1,1.12)" text-anchor="middle" class="tk">528</text>
<line x1="390.7" x2="545.9" y1="267" y2="267" stroke="#e82020" stroke-width="1.6"/>
<text transform="translate(384.2,213.4) rotate(-90)" text-anchor="middle" class="lb" font-size="8.8">Intensity (a.u.)</text>
<text transform="translate(468.3,286.1) scale(1,1.12)" text-anchor="middle" class="lb" font-size="8.82">Binding energy (eV)</text>
<text transform="translate(396.5,165.7) scale(1,1.12)" class="lb" font-size="9.7">(f) RP-HfO<tspan font-size="7" dy="1.9">2</tspan></text>
<text transform="translate(396.6,180) scale(1,1.12)" class="lb" font-size="10">O 1s</text>
<line x1="483.1" x2="501" y1="162.1" y2="162.1" stroke="#111" stroke-width="1.2"/>
<text transform="translate(503.5,164.9) scale(1,1.12)" class="lb" font-size="7.7">Lattice</text>
<line x1="483.1" x2="501" y1="172" y2="172" stroke="#ff3030" stroke-width="1.2"/>
<text transform="translate(503.5,174.8) scale(1,1.12)" class="lb" font-size="7.7">Non-lattice</text>
<text transform="translate(419,231.3) scale(1,1.12)" text-anchor="middle" class="lb" font-size="8.2" style="fill:#ff1a1a;stroke:#ff1a1a">Non-lattice</text>
<text transform="translate(419,240.9) scale(1,1.12)" text-anchor="middle" class="lb" font-size="8.2" style="fill:#ff1a1a;stroke:#ff1a1a">(7.33%)</text>
<line x1="418.4" y1="245.5" x2="422.44" y2="256.05" stroke="#ff1a1a" stroke-width="1.15"/>
<path d="M423.8,259.6L420.67,256.73L424.22,255.37Z" fill="#ff1a1a"/>
</svg>
</body></html>
